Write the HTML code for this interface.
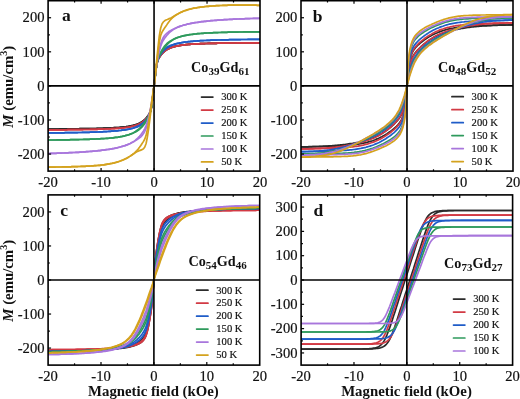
<!DOCTYPE html>
<html><head><meta charset="utf-8"><title>M-H loops</title>
<style>
html,body{margin:0;padding:0;background:#fff;width:520px;height:399px;overflow:hidden}
svg{display:block}
text{font-family:"Liberation Serif","Times New Roman",serif;fill:#111}
.tl{font-size:14.6px;stroke:#111;stroke-width:0.2px}
.pl{font-size:17.5px;font-weight:bold}
.cm{font-size:14.2px;font-weight:bold}
.sb{font-size:11px}
.lg{font-size:10.6px;stroke:#222;stroke-width:0.2px}
.at{font-size:14.8px;font-weight:bold}
.sp{font-size:10px}
</style></head><body>
<svg width="520" height="399" viewBox="0 0 520 399">

<rect width="520" height="399" fill="#fff"/>
<g><path d="M48.1,129.0 L49.4,129.0 L50.7,129.0 L52.1,129.0 L53.4,129.0 L54.7,129.0 L56.0,129.0 L57.4,129.0 L58.7,129.0 L60.0,128.9 L61.3,128.9 L62.7,128.9 L64.0,128.9 L65.3,128.9 L66.6,128.9 L68.0,128.9 L69.3,128.9 L70.6,128.9 L71.9,128.8 L73.3,128.8 L74.6,128.8 L75.9,128.8 L77.2,128.8 L78.6,128.8 L79.9,128.7 L81.2,128.7 L82.5,128.7 L83.9,128.7 L85.2,128.7 L86.5,128.6 L87.8,128.6 L89.2,128.6 L90.5,128.6 L91.8,128.5 L93.1,128.5 L94.5,128.5 L95.8,128.5 L97.1,128.4 L98.4,128.4 L99.8,128.4 L101.1,128.3 L102.4,128.3 L103.7,128.2 L105.0,128.2 L106.4,128.1 L107.7,128.1 L109.0,128.0 L110.3,128.0 L111.7,127.9 L113.0,127.8 L114.3,127.7 L115.6,127.7 L117.0,127.6 L118.3,127.5 L119.6,127.4 L120.9,127.3 L122.3,127.1 L123.6,127.0 L124.9,126.8 L126.2,126.7 L127.6,126.5 L128.9,126.3 L130.2,126.0 L131.5,125.8 L132.9,125.5 L134.2,125.2 L135.5,124.9 L136.8,124.5 L138.2,124.0 L139.5,123.5 L140.8,122.8 L142.1,122.0 L143.5,121.1 L144.8,119.9 L146.1,118.5 L147.4,116.8 L148.8,114.7 L150.1,112.2 L151.4,107.5 L152.7,97.4 L154.1,85.9 L155.4,74.5 L156.7,64.4 L158.0,59.8 L159.3,57.4 L160.7,55.4 L162.0,53.8 L163.3,52.5 L164.6,51.4 L166.0,50.4 L167.3,49.6 L168.6,48.9 L169.9,48.3 L171.3,47.7 L172.6,47.2 L173.9,46.8 L175.2,46.4 L176.6,46.1 L177.9,45.8 L179.2,45.6 L180.5,45.3 L181.9,45.1 L183.2,45.0 L184.5,44.8 L185.8,44.7 L187.2,44.6 L188.5,44.4 L189.8,44.3 L191.1,44.2 L192.5,44.1 L193.8,44.1 L195.1,44.0 L196.4,43.9 L197.8,43.8 L199.1,43.8 L200.4,43.7 L201.7,43.7 L203.1,43.6 L204.4,43.6 L205.7,43.5 L207.0,43.5 L208.3,43.4 L209.7,43.4 L211.0,43.4 L212.3,43.3 L213.6,43.3 L215.0,43.3 L216.3,43.3 L217.6,43.2 L218.9,43.2 L220.3,43.2 L221.6,43.2 L222.9,43.1 L224.2,43.1 L225.6,43.1 L226.9,43.1 L228.2,43.1 L229.5,43.0 L230.9,43.0 L232.2,43.0 L233.5,43.0 L234.8,43.0 L236.2,43.0 L237.5,42.9 L238.8,42.9 L240.1,42.9 L241.5,42.9 L242.8,42.9 L244.1,42.9 L245.4,42.9 L246.8,42.9 L248.1,42.9 L249.4,42.8 L250.7,42.8 L252.1,42.8 L253.4,42.8 L254.7,42.8 L256.0,42.8 L257.4,42.8 L258.7,42.8 L260.0,42.8" fill="none" stroke="#2b2b2b" stroke-width="1.7" stroke-linejoin="round"/>
<path d="M48.1,129.0 L49.4,129.0 L50.7,129.0 L52.1,129.0 L53.4,129.0 L54.7,129.0 L56.0,129.0 L57.4,129.0 L58.7,129.0 L60.0,128.9 L61.3,128.9 L62.7,128.9 L64.0,128.9 L65.3,128.9 L66.6,128.9 L68.0,128.9 L69.3,128.9 L70.6,128.9 L71.9,128.8 L73.3,128.8 L74.6,128.8 L75.9,128.8 L77.2,128.8 L78.6,128.8 L79.9,128.7 L81.2,128.7 L82.5,128.7 L83.9,128.7 L85.2,128.7 L86.5,128.6 L87.8,128.6 L89.2,128.6 L90.5,128.6 L91.8,128.5 L93.1,128.5 L94.5,128.5 L95.8,128.5 L97.1,128.4 L98.4,128.4 L99.8,128.4 L101.1,128.3 L102.4,128.3 L103.7,128.2 L105.0,128.2 L106.4,128.1 L107.7,128.1 L109.0,128.0 L110.3,128.0 L111.7,127.9 L113.0,127.8 L114.3,127.7 L115.6,127.7 L117.0,127.6 L118.3,127.5 L119.6,127.4 L120.9,127.2 L122.3,127.1 L123.6,127.0 L124.9,126.8 L126.2,126.7 L127.6,126.5 L128.9,126.2 L130.2,126.0 L131.5,125.7 L132.9,125.4 L134.2,125.0 L135.5,124.6 L136.8,124.1 L138.2,123.5 L139.5,122.9 L140.8,122.2 L142.1,121.4 L143.5,120.4 L144.8,119.3 L146.1,118.0 L147.4,116.4 L148.8,114.4 L150.1,112.0 L151.4,107.4 L152.7,97.3 L154.1,85.9 L155.4,74.4 L156.7,64.3 L158.0,59.6 L159.3,57.1 L160.7,55.0 L162.0,53.3 L163.3,51.9 L164.6,50.7 L166.0,49.8 L167.3,49.0 L168.6,48.3 L169.9,47.8 L171.3,47.3 L172.6,46.9 L173.9,46.6 L175.2,46.3 L176.6,46.0 L177.9,45.8 L179.2,45.5 L180.5,45.3 L181.9,45.1 L183.2,45.0 L184.5,44.8 L185.8,44.7 L187.2,44.5 L188.5,44.4 L189.8,44.3 L191.1,44.2 L192.5,44.1 L193.8,44.1 L195.1,44.0 L196.4,43.9 L197.8,43.8 L199.1,43.8 L200.4,43.7 L201.7,43.7 L203.1,43.6 L204.4,43.6 L205.7,43.5 L207.0,43.5 L208.3,43.4 L209.7,43.4 L211.0,43.4 L212.3,43.3 L213.6,43.3 L215.0,43.3 L216.3,43.3 L217.6,43.2 L218.9,43.2 L220.3,43.2 L221.6,43.2 L222.9,43.1 L224.2,43.1 L225.6,43.1 L226.9,43.1 L228.2,43.1 L229.5,43.0 L230.9,43.0 L232.2,43.0 L233.5,43.0 L234.8,43.0 L236.2,43.0 L237.5,42.9 L238.8,42.9 L240.1,42.9 L241.5,42.9 L242.8,42.9 L244.1,42.9 L245.4,42.9 L246.8,42.9 L248.1,42.9 L249.4,42.8 L250.7,42.8 L252.1,42.8 L253.4,42.8 L254.7,42.8 L256.0,42.8 L257.4,42.8 L258.7,42.8 L260.0,42.8" fill="none" stroke="#2b2b2b" stroke-width="1.7" stroke-linejoin="round"/>
<path d="M48.1,129.9 L49.4,129.9 L50.7,129.9 L52.1,129.9 L53.4,129.9 L54.7,129.8 L56.0,129.8 L57.4,129.8 L58.7,129.8 L60.0,129.8 L61.3,129.8 L62.7,129.8 L64.0,129.8 L65.3,129.8 L66.6,129.8 L68.0,129.7 L69.3,129.7 L70.6,129.7 L71.9,129.7 L73.3,129.7 L74.6,129.7 L75.9,129.7 L77.2,129.6 L78.6,129.6 L79.9,129.6 L81.2,129.6 L82.5,129.6 L83.9,129.5 L85.2,129.5 L86.5,129.5 L87.8,129.5 L89.2,129.5 L90.5,129.4 L91.8,129.4 L93.1,129.4 L94.5,129.3 L95.8,129.3 L97.1,129.3 L98.4,129.2 L99.8,129.2 L101.1,129.2 L102.4,129.1 L103.7,129.1 L105.0,129.0 L106.4,129.0 L107.7,128.9 L109.0,128.9 L110.3,128.8 L111.7,128.7 L113.0,128.7 L114.3,128.6 L115.6,128.5 L117.0,128.4 L118.3,128.3 L119.6,128.2 L120.9,128.1 L122.3,127.9 L123.6,127.8 L124.9,127.6 L126.2,127.5 L127.6,127.3 L128.9,127.1 L130.2,126.9 L131.5,126.6 L132.9,126.3 L134.2,126.0 L135.5,125.7 L136.8,125.3 L138.2,124.8 L139.5,124.2 L140.8,123.6 L142.1,122.8 L143.5,121.8 L144.8,120.6 L146.1,119.1 L147.4,117.4 L148.8,115.3 L150.1,112.7 L151.4,108.0 L152.7,97.6 L154.1,85.9 L155.4,74.5 L156.7,64.4 L158.0,59.8 L159.3,57.4 L160.7,55.4 L162.0,53.8 L163.3,52.5 L164.6,51.4 L166.0,50.4 L167.3,49.6 L168.6,48.9 L169.9,48.3 L171.3,47.7 L172.6,47.2 L173.9,46.8 L175.2,46.4 L176.6,46.1 L177.9,45.8 L179.2,45.6 L180.5,45.3 L181.9,45.1 L183.2,45.0 L184.5,44.8 L185.8,44.7 L187.2,44.6 L188.5,44.4 L189.8,44.3 L191.1,44.2 L192.5,44.1 L193.8,44.1 L195.1,44.0 L196.4,43.9 L197.8,43.8 L199.1,43.8 L200.4,43.7 L201.7,43.7 L203.1,43.6 L204.4,43.6 L205.7,43.5 L207.0,43.5 L208.3,43.4 L209.7,43.4 L211.0,43.4 L212.3,43.3 L213.6,43.3 L215.0,43.3 L216.3,43.3 L217.6,43.2 L218.9,43.2 L220.3,43.2 L221.6,43.2 L222.9,43.1 L224.2,43.1 L225.6,43.1 L226.9,43.1 L228.2,43.1 L229.5,43.0 L230.9,43.0 L232.2,43.0 L233.5,43.0 L234.8,43.0 L236.2,43.0 L237.5,42.9 L238.8,42.9 L240.1,42.9 L241.5,42.9 L242.8,42.9 L244.1,42.9 L245.4,42.9 L246.8,42.9 L248.1,42.9 L249.4,42.8 L250.7,42.8 L252.1,42.8 L253.4,42.8 L254.7,42.8 L256.0,42.8 L257.4,42.8 L258.7,42.8 L260.0,42.8" fill="none" stroke="#d23a44" stroke-width="1.7" stroke-linejoin="round"/>
<path d="M48.1,129.9 L49.4,129.9 L50.7,129.9 L52.1,129.9 L53.4,129.9 L54.7,129.8 L56.0,129.8 L57.4,129.8 L58.7,129.8 L60.0,129.8 L61.3,129.8 L62.7,129.8 L64.0,129.8 L65.3,129.8 L66.6,129.8 L68.0,129.7 L69.3,129.7 L70.6,129.7 L71.9,129.7 L73.3,129.7 L74.6,129.7 L75.9,129.7 L77.2,129.6 L78.6,129.6 L79.9,129.6 L81.2,129.6 L82.5,129.6 L83.9,129.5 L85.2,129.5 L86.5,129.5 L87.8,129.5 L89.2,129.5 L90.5,129.4 L91.8,129.4 L93.1,129.4 L94.5,129.3 L95.8,129.3 L97.1,129.3 L98.4,129.2 L99.8,129.2 L101.1,129.2 L102.4,129.1 L103.7,129.1 L105.0,129.0 L106.4,129.0 L107.7,128.9 L109.0,128.9 L110.3,128.8 L111.7,128.7 L113.0,128.7 L114.3,128.6 L115.6,128.5 L117.0,128.4 L118.3,128.3 L119.6,128.2 L120.9,128.1 L122.3,127.9 L123.6,127.8 L124.9,127.6 L126.2,127.5 L127.6,127.3 L128.9,127.1 L130.2,126.8 L131.5,126.5 L132.9,126.2 L134.2,125.8 L135.5,125.4 L136.8,124.9 L138.2,124.3 L139.5,123.7 L140.8,122.9 L142.1,122.1 L143.5,121.1 L144.8,120.0 L146.1,118.6 L147.4,117.0 L148.8,115.0 L150.1,112.5 L151.4,107.8 L152.7,97.5 L154.1,85.9 L155.4,74.4 L156.7,64.3 L158.0,59.6 L159.3,57.1 L160.7,55.0 L162.0,53.3 L163.3,51.9 L164.6,50.7 L166.0,49.8 L167.3,49.0 L168.6,48.3 L169.9,47.8 L171.3,47.3 L172.6,46.9 L173.9,46.6 L175.2,46.3 L176.6,46.0 L177.9,45.8 L179.2,45.5 L180.5,45.3 L181.9,45.1 L183.2,45.0 L184.5,44.8 L185.8,44.7 L187.2,44.5 L188.5,44.4 L189.8,44.3 L191.1,44.2 L192.5,44.1 L193.8,44.1 L195.1,44.0 L196.4,43.9 L197.8,43.8 L199.1,43.8 L200.4,43.7 L201.7,43.7 L203.1,43.6 L204.4,43.6 L205.7,43.5 L207.0,43.5 L208.3,43.4 L209.7,43.4 L211.0,43.4 L212.3,43.3 L213.6,43.3 L215.0,43.3 L216.3,43.3 L217.6,43.2 L218.9,43.2 L220.3,43.2 L221.6,43.2 L222.9,43.1 L224.2,43.1 L225.6,43.1 L226.9,43.1 L228.2,43.1 L229.5,43.0 L230.9,43.0 L232.2,43.0 L233.5,43.0 L234.8,43.0 L236.2,43.0 L237.5,42.9 L238.8,42.9 L240.1,42.9 L241.5,42.9 L242.8,42.9 L244.1,42.9 L245.4,42.9 L246.8,42.9 L248.1,42.9 L249.4,42.8 L250.7,42.8 L252.1,42.8 L253.4,42.8 L254.7,42.8 L256.0,42.8 L257.4,42.8 L258.7,42.8 L260.0,42.8" fill="none" stroke="#d23a44" stroke-width="1.7" stroke-linejoin="round"/>
<path d="M48.1,132.9 L49.4,132.9 L50.7,132.9 L52.1,132.9 L53.4,132.9 L54.7,132.9 L56.0,132.9 L57.4,132.9 L58.7,132.8 L60.0,132.8 L61.3,132.8 L62.7,132.8 L64.0,132.8 L65.3,132.7 L66.6,132.7 L68.0,132.7 L69.3,132.7 L70.6,132.7 L71.9,132.6 L73.3,132.6 L74.6,132.6 L75.9,132.6 L77.2,132.6 L78.6,132.5 L79.9,132.5 L81.2,132.5 L82.5,132.4 L83.9,132.4 L85.2,132.4 L86.5,132.3 L87.8,132.3 L89.2,132.3 L90.5,132.2 L91.8,132.2 L93.1,132.1 L94.5,132.1 L95.8,132.1 L97.1,132.0 L98.4,132.0 L99.8,131.9 L101.1,131.8 L102.4,131.8 L103.7,131.7 L105.0,131.7 L106.4,131.6 L107.7,131.5 L109.0,131.4 L110.3,131.3 L111.7,131.2 L113.0,131.1 L114.3,131.0 L115.6,130.9 L117.0,130.8 L118.3,130.7 L119.6,130.5 L120.9,130.4 L122.3,130.2 L123.6,130.0 L124.9,129.9 L126.2,129.6 L127.6,129.4 L128.9,129.2 L130.2,128.9 L131.5,128.6 L132.9,128.3 L134.2,127.9 L135.5,127.5 L136.8,127.1 L138.2,126.6 L139.5,126.0 L140.8,125.3 L142.1,124.4 L143.5,123.3 L144.8,122.0 L146.1,120.4 L147.4,118.4 L148.8,116.0 L150.1,112.9 L151.4,107.6 L152.7,97.5 L154.1,85.9 L155.4,74.5 L156.7,64.6 L158.0,59.5 L159.3,56.6 L160.7,54.4 L162.0,52.6 L163.3,51.1 L164.6,49.9 L166.0,48.8 L167.3,47.9 L168.6,47.1 L169.9,46.3 L171.3,45.7 L172.6,45.1 L173.9,44.6 L175.2,44.1 L176.6,43.7 L177.9,43.4 L179.2,43.1 L180.5,42.8 L181.9,42.6 L183.2,42.4 L184.5,42.2 L185.8,42.0 L187.2,41.9 L188.5,41.7 L189.8,41.6 L191.1,41.4 L192.5,41.3 L193.8,41.2 L195.1,41.1 L196.4,41.0 L197.8,40.9 L199.1,40.8 L200.4,40.7 L201.7,40.7 L203.1,40.6 L204.4,40.5 L205.7,40.5 L207.0,40.4 L208.3,40.4 L209.7,40.3 L211.0,40.2 L212.3,40.2 L213.6,40.2 L215.0,40.1 L216.3,40.1 L217.6,40.0 L218.9,40.0 L220.3,40.0 L221.6,39.9 L222.9,39.9 L224.2,39.9 L225.6,39.8 L226.9,39.8 L228.2,39.8 L229.5,39.7 L230.9,39.7 L232.2,39.7 L233.5,39.7 L234.8,39.6 L236.2,39.6 L237.5,39.6 L238.8,39.6 L240.1,39.6 L241.5,39.5 L242.8,39.5 L244.1,39.5 L245.4,39.5 L246.8,39.5 L248.1,39.4 L249.4,39.4 L250.7,39.4 L252.1,39.4 L253.4,39.4 L254.7,39.4 L256.0,39.4 L257.4,39.3 L258.7,39.3 L260.0,39.3" fill="none" stroke="#1f5cc8" stroke-width="1.7" stroke-linejoin="round"/>
<path d="M48.1,132.9 L49.4,132.9 L50.7,132.9 L52.1,132.9 L53.4,132.9 L54.7,132.9 L56.0,132.9 L57.4,132.9 L58.7,132.8 L60.0,132.8 L61.3,132.8 L62.7,132.8 L64.0,132.8 L65.3,132.7 L66.6,132.7 L68.0,132.7 L69.3,132.7 L70.6,132.7 L71.9,132.6 L73.3,132.6 L74.6,132.6 L75.9,132.6 L77.2,132.6 L78.6,132.5 L79.9,132.5 L81.2,132.5 L82.5,132.4 L83.9,132.4 L85.2,132.4 L86.5,132.3 L87.8,132.3 L89.2,132.3 L90.5,132.2 L91.8,132.2 L93.1,132.1 L94.5,132.1 L95.8,132.1 L97.1,132.0 L98.4,132.0 L99.8,131.9 L101.1,131.8 L102.4,131.8 L103.7,131.7 L105.0,131.7 L106.4,131.6 L107.7,131.5 L109.0,131.4 L110.3,131.3 L111.7,131.2 L113.0,131.1 L114.3,131.0 L115.6,130.9 L117.0,130.8 L118.3,130.7 L119.6,130.5 L120.9,130.4 L122.3,130.2 L123.6,130.0 L124.9,129.8 L126.2,129.6 L127.6,129.4 L128.9,129.1 L130.2,128.8 L131.5,128.5 L132.9,128.1 L134.2,127.6 L135.5,127.1 L136.8,126.5 L138.2,125.9 L139.5,125.1 L140.8,124.3 L142.1,123.4 L143.5,122.3 L144.8,121.0 L146.1,119.6 L147.4,117.8 L148.8,115.5 L150.1,112.6 L151.4,107.4 L152.7,97.4 L154.1,85.9 L155.4,74.4 L156.7,64.4 L158.0,59.1 L159.3,56.1 L160.7,53.7 L162.0,51.8 L163.3,50.2 L164.6,48.9 L166.0,47.8 L167.3,46.9 L168.6,46.2 L169.9,45.6 L171.3,45.1 L172.6,44.7 L173.9,44.3 L175.2,43.9 L176.6,43.6 L177.9,43.3 L179.2,43.1 L180.5,42.8 L181.9,42.6 L183.2,42.4 L184.5,42.2 L185.8,42.0 L187.2,41.9 L188.5,41.7 L189.8,41.6 L191.1,41.4 L192.5,41.3 L193.8,41.2 L195.1,41.1 L196.4,41.0 L197.8,40.9 L199.1,40.8 L200.4,40.7 L201.7,40.7 L203.1,40.6 L204.4,40.5 L205.7,40.5 L207.0,40.4 L208.3,40.4 L209.7,40.3 L211.0,40.2 L212.3,40.2 L213.6,40.2 L215.0,40.1 L216.3,40.1 L217.6,40.0 L218.9,40.0 L220.3,40.0 L221.6,39.9 L222.9,39.9 L224.2,39.9 L225.6,39.8 L226.9,39.8 L228.2,39.8 L229.5,39.7 L230.9,39.7 L232.2,39.7 L233.5,39.7 L234.8,39.6 L236.2,39.6 L237.5,39.6 L238.8,39.6 L240.1,39.6 L241.5,39.5 L242.8,39.5 L244.1,39.5 L245.4,39.5 L246.8,39.5 L248.1,39.4 L249.4,39.4 L250.7,39.4 L252.1,39.4 L253.4,39.4 L254.7,39.4 L256.0,39.4 L257.4,39.3 L258.7,39.3 L260.0,39.3" fill="none" stroke="#1f5cc8" stroke-width="1.7" stroke-linejoin="round"/>
<path d="M48.1,140.0 L49.4,140.0 L50.7,140.0 L52.1,140.0 L53.4,140.0 L54.7,140.0 L56.0,140.0 L57.4,139.9 L58.7,139.9 L60.0,139.9 L61.3,139.9 L62.7,139.9 L64.0,139.8 L65.3,139.8 L66.6,139.8 L68.0,139.8 L69.3,139.8 L70.6,139.7 L71.9,139.7 L73.3,139.7 L74.6,139.7 L75.9,139.6 L77.2,139.6 L78.6,139.6 L79.9,139.5 L81.2,139.5 L82.5,139.5 L83.9,139.4 L85.2,139.4 L86.5,139.4 L87.8,139.3 L89.2,139.3 L90.5,139.2 L91.8,139.2 L93.1,139.1 L94.5,139.1 L95.8,139.0 L97.1,138.9 L98.4,138.9 L99.8,138.8 L101.1,138.7 L102.4,138.6 L103.7,138.6 L105.0,138.5 L106.4,138.4 L107.7,138.3 L109.0,138.2 L110.3,138.0 L111.7,137.9 L113.0,137.8 L114.3,137.6 L115.6,137.4 L117.0,137.3 L118.3,137.1 L119.6,136.8 L120.9,136.6 L122.3,136.4 L123.6,136.1 L124.9,135.8 L126.2,135.4 L127.6,135.1 L128.9,134.7 L130.2,134.2 L131.5,133.7 L132.9,133.2 L134.2,132.6 L135.5,131.9 L136.8,131.2 L138.2,130.3 L139.5,129.3 L140.8,128.2 L142.1,126.9 L143.5,125.3 L144.8,123.5 L146.1,121.4 L147.4,119.0 L148.8,116.3 L150.1,113.2 L151.4,107.5 L152.7,97.1 L154.1,86.0 L155.4,74.6 L156.7,64.2 L158.0,58.9 L159.3,56.0 L160.7,53.4 L162.0,51.2 L163.3,49.2 L164.6,47.5 L166.0,45.9 L167.3,44.4 L168.6,43.2 L169.9,42.0 L171.3,41.0 L172.6,40.1 L173.9,39.3 L175.2,38.6 L176.6,38.0 L177.9,37.5 L179.2,37.0 L180.5,36.6 L181.9,36.2 L183.2,35.9 L184.5,35.6 L185.8,35.3 L187.2,35.1 L188.5,34.9 L189.8,34.7 L191.1,34.5 L192.5,34.3 L193.8,34.1 L195.1,34.0 L196.4,33.9 L197.8,33.7 L199.1,33.6 L200.4,33.5 L201.7,33.4 L203.1,33.3 L204.4,33.2 L205.7,33.1 L207.0,33.0 L208.3,33.0 L209.7,32.9 L211.0,32.8 L212.3,32.8 L213.6,32.7 L215.0,32.7 L216.3,32.6 L217.6,32.6 L218.9,32.5 L220.3,32.5 L221.6,32.4 L222.9,32.4 L224.2,32.4 L225.6,32.3 L226.9,32.3 L228.2,32.2 L229.5,32.2 L230.9,32.2 L232.2,32.2 L233.5,32.1 L234.8,32.1 L236.2,32.1 L237.5,32.1 L238.8,32.0 L240.1,32.0 L241.5,32.0 L242.8,32.0 L244.1,31.9 L245.4,31.9 L246.8,31.9 L248.1,31.9 L249.4,31.9 L250.7,31.9 L252.1,31.8 L253.4,31.8 L254.7,31.8 L256.0,31.8 L257.4,31.8 L258.7,31.8 L260.0,31.8" fill="none" stroke="#2e9a5c" stroke-width="1.7" stroke-linejoin="round"/>
<path d="M48.1,140.0 L49.4,140.0 L50.7,140.0 L52.1,140.0 L53.4,140.0 L54.7,140.0 L56.0,140.0 L57.4,139.9 L58.7,139.9 L60.0,139.9 L61.3,139.9 L62.7,139.9 L64.0,139.8 L65.3,139.8 L66.6,139.8 L68.0,139.8 L69.3,139.8 L70.6,139.7 L71.9,139.7 L73.3,139.7 L74.6,139.7 L75.9,139.6 L77.2,139.6 L78.6,139.6 L79.9,139.5 L81.2,139.5 L82.5,139.5 L83.9,139.4 L85.2,139.4 L86.5,139.4 L87.8,139.3 L89.2,139.3 L90.5,139.2 L91.8,139.2 L93.1,139.1 L94.5,139.1 L95.8,139.0 L97.1,138.9 L98.4,138.9 L99.8,138.8 L101.1,138.7 L102.4,138.6 L103.7,138.6 L105.0,138.5 L106.4,138.4 L107.7,138.3 L109.0,138.2 L110.3,138.0 L111.7,137.9 L113.0,137.8 L114.3,137.6 L115.6,137.4 L117.0,137.3 L118.3,137.1 L119.6,136.8 L120.9,136.6 L122.3,136.4 L123.6,136.1 L124.9,135.8 L126.2,135.4 L127.6,135.0 L128.9,134.6 L130.2,134.1 L131.5,133.6 L132.9,133.0 L134.2,132.3 L135.5,131.5 L136.8,130.5 L138.2,129.5 L139.5,128.3 L140.8,127.0 L142.1,125.6 L143.5,124.0 L144.8,122.2 L146.1,120.2 L147.4,118.0 L148.8,115.5 L150.1,112.6 L151.4,107.1 L152.7,96.8 L154.1,85.8 L155.4,74.4 L156.7,63.8 L158.0,58.3 L159.3,55.1 L160.7,52.4 L162.0,50.0 L163.3,47.9 L164.6,46.1 L166.0,44.5 L167.3,43.2 L168.6,42.1 L169.9,41.2 L171.3,40.4 L172.6,39.7 L173.9,39.0 L175.2,38.4 L176.6,37.9 L177.9,37.4 L179.2,37.0 L180.5,36.6 L181.9,36.2 L183.2,35.9 L184.5,35.6 L185.8,35.3 L187.2,35.1 L188.5,34.9 L189.8,34.7 L191.1,34.5 L192.5,34.3 L193.8,34.1 L195.1,34.0 L196.4,33.9 L197.8,33.7 L199.1,33.6 L200.4,33.5 L201.7,33.4 L203.1,33.3 L204.4,33.2 L205.7,33.1 L207.0,33.0 L208.3,33.0 L209.7,32.9 L211.0,32.8 L212.3,32.8 L213.6,32.7 L215.0,32.7 L216.3,32.6 L217.6,32.6 L218.9,32.5 L220.3,32.5 L221.6,32.4 L222.9,32.4 L224.2,32.4 L225.6,32.3 L226.9,32.3 L228.2,32.2 L229.5,32.2 L230.9,32.2 L232.2,32.2 L233.5,32.1 L234.8,32.1 L236.2,32.1 L237.5,32.1 L238.8,32.0 L240.1,32.0 L241.5,32.0 L242.8,32.0 L244.1,31.9 L245.4,31.9 L246.8,31.9 L248.1,31.9 L249.4,31.9 L250.7,31.9 L252.1,31.8 L253.4,31.8 L254.7,31.8 L256.0,31.8 L257.4,31.8 L258.7,31.8 L260.0,31.8" fill="none" stroke="#2e9a5c" stroke-width="1.7" stroke-linejoin="round"/>
<path d="M48.1,153.5 L49.4,153.5 L50.7,153.4 L52.1,153.4 L53.4,153.3 L54.7,153.3 L56.0,153.3 L57.4,153.2 L58.7,153.2 L60.0,153.1 L61.3,153.1 L62.7,153.0 L64.0,153.0 L65.3,152.9 L66.6,152.8 L68.0,152.8 L69.3,152.7 L70.6,152.7 L71.9,152.6 L73.3,152.5 L74.6,152.5 L75.9,152.4 L77.2,152.3 L78.6,152.3 L79.9,152.2 L81.2,152.1 L82.5,152.0 L83.9,151.9 L85.2,151.8 L86.5,151.7 L87.8,151.6 L89.2,151.5 L90.5,151.4 L91.8,151.3 L93.1,151.2 L94.5,151.1 L95.8,151.0 L97.1,150.8 L98.4,150.7 L99.8,150.6 L101.1,150.4 L102.4,150.2 L103.7,150.1 L105.0,149.9 L106.4,149.7 L107.7,149.5 L109.0,149.3 L110.3,149.1 L111.7,148.9 L113.0,148.6 L114.3,148.4 L115.6,148.1 L117.0,147.8 L118.3,147.5 L119.6,147.2 L120.9,146.8 L122.3,146.4 L123.6,146.0 L124.9,145.6 L126.2,145.1 L127.6,144.6 L128.9,144.1 L130.2,143.5 L131.5,142.8 L132.9,142.1 L134.2,141.4 L135.5,140.6 L136.8,139.8 L138.2,138.9 L139.5,137.9 L140.8,136.8 L142.1,135.4 L143.5,133.6 L144.8,131.3 L146.1,128.1 L147.4,123.7 L148.8,118.3 L150.1,112.1 L151.4,104.9 L152.7,96.5 L154.1,86.1 L155.4,74.0 L156.7,64.7 L158.0,57.2 L159.3,51.0 L160.7,46.1 L162.0,42.7 L163.3,40.2 L164.6,38.2 L166.0,36.4 L167.3,34.8 L168.6,33.4 L169.9,32.1 L171.3,31.0 L172.6,30.0 L173.9,29.1 L175.2,28.4 L176.6,27.7 L177.9,27.1 L179.2,26.6 L180.5,26.1 L181.9,25.7 L183.2,25.3 L184.5,24.9 L185.8,24.6 L187.2,24.2 L188.5,23.9 L189.8,23.7 L191.1,23.4 L192.5,23.1 L193.8,22.9 L195.1,22.7 L196.4,22.5 L197.8,22.3 L199.1,22.1 L200.4,21.9 L201.7,21.7 L203.1,21.6 L204.4,21.4 L205.7,21.3 L207.0,21.1 L208.3,21.0 L209.7,20.9 L211.0,20.7 L212.3,20.6 L213.6,20.5 L215.0,20.4 L216.3,20.3 L217.6,20.2 L218.9,20.1 L220.3,20.0 L221.6,19.9 L222.9,19.8 L224.2,19.7 L225.6,19.7 L226.9,19.6 L228.2,19.5 L229.5,19.4 L230.9,19.4 L232.2,19.3 L233.5,19.2 L234.8,19.2 L236.2,19.1 L237.5,19.0 L238.8,19.0 L240.1,18.9 L241.5,18.9 L242.8,18.8 L244.1,18.8 L245.4,18.7 L246.8,18.7 L248.1,18.6 L249.4,18.6 L250.7,18.5 L252.1,18.5 L253.4,18.4 L254.7,18.4 L256.0,18.4 L257.4,18.3 L258.7,18.3 L260.0,18.2" fill="none" stroke="#a876dc" stroke-width="1.7" stroke-linejoin="round"/>
<path d="M48.1,153.5 L49.4,153.5 L50.7,153.4 L52.1,153.4 L53.4,153.3 L54.7,153.3 L56.0,153.3 L57.4,153.2 L58.7,153.2 L60.0,153.1 L61.3,153.1 L62.7,153.0 L64.0,153.0 L65.3,152.9 L66.6,152.8 L68.0,152.8 L69.3,152.7 L70.6,152.7 L71.9,152.6 L73.3,152.5 L74.6,152.5 L75.9,152.4 L77.2,152.3 L78.6,152.3 L79.9,152.2 L81.2,152.1 L82.5,152.0 L83.9,151.9 L85.2,151.8 L86.5,151.7 L87.8,151.6 L89.2,151.5 L90.5,151.4 L91.8,151.3 L93.1,151.2 L94.5,151.1 L95.8,151.0 L97.1,150.8 L98.4,150.7 L99.8,150.6 L101.1,150.4 L102.4,150.2 L103.7,150.1 L105.0,149.9 L106.4,149.7 L107.7,149.5 L109.0,149.3 L110.3,149.1 L111.7,148.9 L113.0,148.6 L114.3,148.4 L115.6,148.1 L117.0,147.8 L118.3,147.5 L119.6,147.2 L120.9,146.8 L122.3,146.4 L123.6,146.0 L124.9,145.6 L126.2,145.1 L127.6,144.6 L128.9,144.0 L130.2,143.4 L131.5,142.7 L132.9,142.0 L134.2,141.1 L135.5,140.1 L136.8,139.0 L138.2,137.7 L139.5,136.3 L140.8,134.7 L142.1,132.9 L143.5,131.0 L144.8,128.6 L146.1,125.5 L147.4,121.4 L148.8,116.4 L150.1,110.7 L151.4,103.9 L152.7,95.8 L154.1,85.7 L155.4,73.4 L156.7,63.7 L158.0,55.8 L159.3,49.1 L160.7,43.8 L162.0,40.1 L163.3,37.5 L164.6,35.5 L166.0,34.0 L167.3,32.8 L168.6,31.8 L169.9,31.0 L171.3,30.2 L172.6,29.5 L173.9,28.9 L175.2,28.2 L176.6,27.7 L177.9,27.1 L179.2,26.6 L180.5,26.1 L181.9,25.7 L183.2,25.3 L184.5,24.9 L185.8,24.6 L187.2,24.2 L188.5,23.9 L189.8,23.7 L191.1,23.4 L192.5,23.1 L193.8,22.9 L195.1,22.7 L196.4,22.5 L197.8,22.3 L199.1,22.1 L200.4,21.9 L201.7,21.7 L203.1,21.6 L204.4,21.4 L205.7,21.3 L207.0,21.1 L208.3,21.0 L209.7,20.9 L211.0,20.7 L212.3,20.6 L213.6,20.5 L215.0,20.4 L216.3,20.3 L217.6,20.2 L218.9,20.1 L220.3,20.0 L221.6,19.9 L222.9,19.8 L224.2,19.7 L225.6,19.7 L226.9,19.6 L228.2,19.5 L229.5,19.4 L230.9,19.4 L232.2,19.3 L233.5,19.2 L234.8,19.2 L236.2,19.1 L237.5,19.0 L238.8,19.0 L240.1,18.9 L241.5,18.9 L242.8,18.8 L244.1,18.8 L245.4,18.7 L246.8,18.7 L248.1,18.6 L249.4,18.6 L250.7,18.5 L252.1,18.5 L253.4,18.4 L254.7,18.4 L256.0,18.4 L257.4,18.3 L258.7,18.3 L260.0,18.2" fill="none" stroke="#a876dc" stroke-width="1.7" stroke-linejoin="round"/>
<path d="M48.1,167.1 L49.4,167.1 L50.7,167.1 L52.1,167.1 L53.4,167.1 L54.7,167.1 L56.0,167.0 L57.4,167.0 L58.7,167.0 L60.0,167.0 L61.3,167.0 L62.7,166.9 L64.0,166.9 L65.3,166.9 L66.6,166.9 L68.0,166.8 L69.3,166.8 L70.6,166.8 L71.9,166.7 L73.3,166.7 L74.6,166.7 L75.9,166.6 L77.2,166.6 L78.6,166.5 L79.9,166.5 L81.2,166.4 L82.5,166.4 L83.9,166.3 L85.2,166.3 L86.5,166.2 L87.8,166.1 L89.2,166.1 L90.5,166.0 L91.8,165.9 L93.1,165.8 L94.5,165.7 L95.8,165.6 L97.1,165.5 L98.4,165.4 L99.8,165.3 L101.1,165.1 L102.4,165.0 L103.7,164.8 L105.0,164.6 L106.4,164.4 L107.7,164.2 L109.0,164.0 L110.3,163.7 L111.7,163.5 L113.0,163.2 L114.3,162.9 L115.6,162.5 L117.0,162.1 L118.3,161.7 L119.6,161.3 L120.9,160.8 L122.3,160.2 L123.6,159.7 L124.9,159.1 L126.2,158.4 L127.6,157.7 L128.9,156.9 L130.2,156.1 L131.5,155.2 L132.9,154.3 L134.2,153.5 L135.5,152.6 L136.8,151.8 L138.2,151.2 L139.5,150.6 L140.8,150.1 L142.1,149.6 L143.5,148.7 L144.8,147.0 L146.1,143.5 L147.4,136.9 L148.8,127.6 L150.1,117.3 L151.4,106.9 L152.7,96.7 L154.1,86.6 L155.4,75.1 L156.7,63.7 L158.0,52.5 L159.3,42.3 L160.7,35.4 L162.0,32.1 L163.3,30.0 L164.6,28.1 L166.0,26.1 L167.3,24.1 L168.6,22.2 L169.9,20.5 L171.3,19.0 L172.6,17.6 L173.9,16.5 L175.2,15.5 L176.6,14.7 L177.9,13.9 L179.2,13.2 L180.5,12.5 L181.9,11.9 L183.2,11.3 L184.5,10.8 L185.8,10.4 L187.2,9.9 L188.5,9.5 L189.8,9.2 L191.1,8.8 L192.5,8.5 L193.8,8.2 L195.1,8.0 L196.4,7.8 L197.8,7.5 L199.1,7.3 L200.4,7.1 L201.7,7.0 L203.1,6.8 L204.4,6.7 L205.7,6.5 L207.0,6.4 L208.3,6.3 L209.7,6.2 L211.0,6.1 L212.3,6.0 L213.6,5.9 L215.0,5.8 L216.3,5.7 L217.6,5.7 L218.9,5.6 L220.3,5.5 L221.6,5.5 L222.9,5.4 L224.2,5.4 L225.6,5.3 L226.9,5.3 L228.2,5.2 L229.5,5.2 L230.9,5.2 L232.2,5.1 L233.5,5.1 L234.8,5.1 L236.2,5.1 L237.5,5.1 L238.8,5.1 L240.1,5.1 L241.5,5.1 L242.8,5.1 L244.1,5.1 L245.4,5.1 L246.8,5.1 L248.1,5.1 L249.4,5.1 L250.7,5.1 L252.1,5.1 L253.4,5.2 L254.7,5.2 L256.0,5.2 L257.4,5.3 L258.7,5.3 L260.0,5.3" fill="none" stroke="#d4a21e" stroke-width="1.7" stroke-linejoin="round"/>
<path d="M48.1,167.1 L49.4,167.1 L50.7,167.1 L52.1,167.1 L53.4,167.1 L54.7,167.1 L56.0,167.0 L57.4,167.0 L58.7,167.0 L60.0,167.0 L61.3,167.0 L62.7,166.9 L64.0,166.9 L65.3,166.9 L66.6,166.9 L68.0,166.8 L69.3,166.8 L70.6,166.8 L71.9,166.7 L73.3,166.7 L74.6,166.7 L75.9,166.6 L77.2,166.6 L78.6,166.5 L79.9,166.5 L81.2,166.4 L82.5,166.4 L83.9,166.3 L85.2,166.3 L86.5,166.2 L87.8,166.1 L89.2,166.1 L90.5,166.0 L91.8,165.9 L93.1,165.8 L94.5,165.7 L95.8,165.6 L97.1,165.5 L98.4,165.4 L99.8,165.3 L101.1,165.1 L102.4,165.0 L103.7,164.8 L105.0,164.6 L106.4,164.4 L107.7,164.2 L109.0,164.0 L110.3,163.7 L111.7,163.5 L113.0,163.2 L114.3,162.9 L115.6,162.5 L117.0,162.1 L118.3,161.7 L119.6,161.3 L120.9,160.8 L122.3,160.2 L123.6,159.7 L124.9,159.1 L126.2,158.4 L127.6,157.7 L128.9,156.9 L130.2,156.1 L131.5,155.2 L132.9,154.2 L134.2,153.1 L135.5,151.9 L136.8,150.6 L138.2,149.1 L139.5,147.3 L140.8,145.4 L142.1,143.5 L143.5,141.4 L144.8,139.0 L146.1,135.4 L147.4,129.4 L148.8,121.2 L150.1,112.3 L151.4,103.4 L152.7,94.4 L154.1,85.2 L155.4,72.7 L156.7,60.1 L158.0,47.5 L159.3,35.9 L160.7,27.9 L162.0,23.9 L163.3,22.0 L164.6,20.8 L166.0,20.0 L167.3,19.5 L168.6,18.9 L169.9,18.4 L171.3,17.7 L172.6,17.0 L173.9,16.2 L175.2,15.4 L176.6,14.6 L177.9,13.9 L179.2,13.1 L180.5,12.5 L181.9,11.9 L183.2,11.3 L184.5,10.8 L185.8,10.4 L187.2,9.9 L188.5,9.5 L189.8,9.2 L191.1,8.8 L192.5,8.5 L193.8,8.2 L195.1,8.0 L196.4,7.8 L197.8,7.5 L199.1,7.3 L200.4,7.1 L201.7,7.0 L203.1,6.8 L204.4,6.7 L205.7,6.5 L207.0,6.4 L208.3,6.3 L209.7,6.2 L211.0,6.1 L212.3,6.0 L213.6,5.9 L215.0,5.8 L216.3,5.7 L217.6,5.7 L218.9,5.6 L220.3,5.5 L221.6,5.5 L222.9,5.4 L224.2,5.4 L225.6,5.3 L226.9,5.3 L228.2,5.2 L229.5,5.2 L230.9,5.2 L232.2,5.1 L233.5,5.1 L234.8,5.1 L236.2,5.1 L237.5,5.1 L238.8,5.1 L240.1,5.1 L241.5,5.1 L242.8,5.1 L244.1,5.1 L245.4,5.1 L246.8,5.1 L248.1,5.1 L249.4,5.1 L250.7,5.1 L252.1,5.1 L253.4,5.2 L254.7,5.2 L256.0,5.2 L257.4,5.3 L258.7,5.3 L260.0,5.3" fill="none" stroke="#d4a21e" stroke-width="1.7" stroke-linejoin="round"/>
<path d="M301.0,146.9 L302.3,146.9 L303.6,146.9 L305.0,146.9 L306.3,146.8 L307.6,146.8 L308.9,146.8 L310.3,146.8 L311.6,146.8 L312.9,146.7 L314.2,146.7 L315.6,146.7 L316.9,146.7 L318.2,146.6 L319.6,146.6 L320.9,146.6 L322.2,146.5 L323.5,146.5 L324.9,146.5 L326.2,146.4 L327.5,146.4 L328.8,146.3 L330.1,146.3 L331.5,146.3 L332.8,146.2 L334.1,146.2 L335.4,146.1 L336.8,146.0 L338.1,146.0 L339.4,145.9 L340.8,145.8 L342.1,145.8 L343.4,145.7 L344.7,145.6 L346.1,145.5 L347.4,145.4 L348.7,145.3 L350.0,145.2 L351.4,145.0 L352.7,144.9 L354.0,144.7 L355.3,144.6 L356.6,144.4 L358.0,144.2 L359.3,144.0 L360.6,143.7 L361.9,143.5 L363.3,143.2 L364.6,142.9 L365.9,142.6 L367.2,142.3 L368.6,141.9 L369.9,141.5 L371.2,141.1 L372.6,140.7 L373.9,140.2 L375.2,139.7 L376.5,139.1 L377.9,138.6 L379.2,138.0 L380.5,137.3 L381.8,136.7 L383.1,135.9 L384.5,135.2 L385.8,134.4 L387.1,133.6 L388.4,132.7 L389.8,131.8 L391.1,130.8 L392.4,129.8 L393.8,128.7 L395.1,127.5 L396.4,126.3 L397.7,125.0 L399.1,123.4 L400.4,121.6 L401.7,119.3 L403.0,115.8 L404.4,109.9 L405.7,100.4 L407.0,85.9 L408.3,75.8 L409.6,67.0 L411.0,61.2 L412.3,57.6 L413.6,55.2 L414.9,53.3 L416.3,51.6 L417.6,50.2 L418.9,48.8 L420.2,47.5 L421.6,46.2 L422.9,45.0 L424.2,43.9 L425.6,42.9 L426.9,41.8 L428.2,40.9 L429.5,40.0 L430.9,39.1 L432.2,38.3 L433.5,37.5 L434.8,36.8 L436.1,36.1 L437.5,35.5 L438.8,34.9 L440.1,34.3 L441.4,33.8 L442.8,33.3 L444.1,32.8 L445.4,32.3 L446.8,31.9 L448.1,31.5 L449.4,31.1 L450.7,30.8 L452.1,30.5 L453.4,30.1 L454.7,29.8 L456.0,29.5 L457.4,29.3 L458.7,29.0 L460.0,28.8 L461.3,28.5 L462.6,28.3 L464.0,28.1 L465.3,27.9 L466.6,27.7 L467.9,27.5 L469.3,27.3 L470.6,27.2 L471.9,27.0 L473.2,26.9 L474.6,26.7 L475.9,26.6 L477.2,26.5 L478.6,26.4 L479.9,26.2 L481.2,26.1 L482.5,26.0 L483.9,25.9 L485.2,25.9 L486.5,25.8 L487.8,25.7 L489.1,25.6 L490.5,25.6 L491.8,25.5 L493.1,25.4 L494.4,25.4 L495.8,25.3 L497.1,25.3 L498.4,25.2 L499.8,25.2 L501.1,25.2 L502.4,25.1 L503.7,25.1 L505.1,25.1 L506.4,25.0 L507.7,25.0 L509.0,25.0 L510.4,24.9 L511.7,24.9 L513.0,24.9" fill="none" stroke="#2b2b2b" stroke-width="1.7" stroke-linejoin="round"/>
<path d="M301.0,146.9 L302.3,146.9 L303.6,146.9 L305.0,146.8 L306.3,146.8 L307.6,146.8 L308.9,146.7 L310.3,146.7 L311.6,146.7 L312.9,146.6 L314.2,146.6 L315.6,146.6 L316.9,146.5 L318.2,146.5 L319.6,146.4 L320.9,146.4 L322.2,146.3 L323.5,146.2 L324.9,146.2 L326.2,146.1 L327.5,146.0 L328.8,145.9 L330.1,145.9 L331.5,145.8 L332.8,145.7 L334.1,145.6 L335.4,145.4 L336.8,145.3 L338.1,145.2 L339.4,145.1 L340.8,144.9 L342.1,144.8 L343.4,144.6 L344.7,144.5 L346.1,144.3 L347.4,144.1 L348.7,143.9 L350.0,143.7 L351.4,143.5 L352.7,143.3 L354.0,143.0 L355.3,142.8 L356.6,142.5 L358.0,142.3 L359.3,142.0 L360.6,141.7 L361.9,141.3 L363.3,141.0 L364.6,140.7 L365.9,140.3 L367.2,139.9 L368.6,139.5 L369.9,139.0 L371.2,138.5 L372.6,138.0 L373.9,137.5 L375.2,136.9 L376.5,136.3 L377.9,135.7 L379.2,135.0 L380.5,134.3 L381.8,133.5 L383.1,132.7 L384.5,131.8 L385.8,130.9 L387.1,130.0 L388.4,128.9 L389.8,127.9 L391.1,126.8 L392.4,125.6 L393.8,124.3 L395.1,123.0 L396.4,121.6 L397.7,120.2 L399.1,118.5 L400.4,116.6 L401.7,114.2 L403.0,110.6 L404.4,104.8 L405.7,96.0 L407.0,85.9 L408.3,71.4 L409.6,61.9 L411.0,56.0 L412.3,52.5 L413.6,50.2 L414.9,48.4 L416.3,46.8 L417.6,45.5 L418.9,44.3 L420.2,43.1 L421.6,42.0 L422.9,41.0 L424.2,40.0 L425.6,39.1 L426.9,38.2 L428.2,37.4 L429.5,36.6 L430.9,35.9 L432.2,35.1 L433.5,34.5 L434.8,33.8 L436.1,33.2 L437.5,32.7 L438.8,32.1 L440.1,31.6 L441.4,31.1 L442.8,30.7 L444.1,30.3 L445.4,29.9 L446.8,29.5 L448.1,29.2 L449.4,28.9 L450.7,28.6 L452.1,28.3 L453.4,28.1 L454.7,27.8 L456.0,27.6 L457.4,27.4 L458.7,27.2 L460.0,27.1 L461.3,26.9 L462.6,26.8 L464.0,26.6 L465.3,26.5 L466.6,26.4 L467.9,26.3 L469.3,26.2 L470.6,26.1 L471.9,26.0 L473.2,26.0 L474.6,25.9 L475.9,25.8 L477.2,25.8 L478.6,25.7 L479.9,25.6 L481.2,25.6 L482.5,25.5 L483.9,25.5 L485.2,25.5 L486.5,25.4 L487.8,25.4 L489.1,25.3 L490.5,25.3 L491.8,25.3 L493.1,25.2 L494.4,25.2 L495.8,25.2 L497.1,25.1 L498.4,25.1 L499.8,25.1 L501.1,25.1 L502.4,25.0 L503.7,25.0 L505.1,25.0 L506.4,25.0 L507.7,25.0 L509.0,24.9 L510.4,24.9 L511.7,24.9 L513.0,24.9" fill="none" stroke="#2b2b2b" stroke-width="1.7" stroke-linejoin="round"/>
<path d="M301.0,148.9 L302.3,148.9 L303.6,148.9 L305.0,148.9 L306.3,148.9 L307.6,148.9 L308.9,148.8 L310.3,148.8 L311.6,148.8 L312.9,148.8 L314.2,148.7 L315.6,148.7 L316.9,148.7 L318.2,148.6 L319.6,148.6 L320.9,148.6 L322.2,148.5 L323.5,148.5 L324.9,148.5 L326.2,148.4 L327.5,148.4 L328.8,148.3 L330.1,148.3 L331.5,148.2 L332.8,148.2 L334.1,148.1 L335.4,148.1 L336.8,148.0 L338.1,147.9 L339.4,147.9 L340.8,147.8 L342.1,147.7 L343.4,147.6 L344.7,147.5 L346.1,147.4 L347.4,147.3 L348.7,147.2 L350.0,147.1 L351.4,146.9 L352.7,146.8 L354.0,146.6 L355.3,146.5 L356.6,146.3 L358.0,146.1 L359.3,145.8 L360.6,145.6 L361.9,145.3 L363.3,145.1 L364.6,144.7 L365.9,144.4 L367.2,144.1 L368.6,143.7 L369.9,143.3 L371.2,142.8 L372.6,142.4 L373.9,141.9 L375.2,141.4 L376.5,140.8 L377.9,140.2 L379.2,139.6 L380.5,138.9 L381.8,138.2 L383.1,137.4 L384.5,136.6 L385.8,135.8 L387.1,134.9 L388.4,134.0 L389.8,133.0 L391.1,132.0 L392.4,130.9 L393.8,129.8 L395.1,128.6 L396.4,127.3 L397.7,125.9 L399.1,124.3 L400.4,122.4 L401.7,120.0 L403.0,116.4 L404.4,110.2 L405.7,100.4 L407.0,85.9 L408.3,76.2 L409.6,67.7 L411.0,61.9 L412.3,58.3 L413.6,55.7 L414.9,53.7 L416.3,51.9 L417.6,50.3 L418.9,48.9 L420.2,47.5 L421.6,46.2 L422.9,45.0 L424.2,43.8 L425.6,42.7 L426.9,41.7 L428.2,40.7 L429.5,39.8 L430.9,38.9 L432.2,38.1 L433.5,37.3 L434.8,36.5 L436.1,35.8 L437.5,35.1 L438.8,34.5 L440.1,33.9 L441.4,33.3 L442.8,32.8 L444.1,32.3 L445.4,31.8 L446.8,31.3 L448.1,30.9 L449.4,30.4 L450.7,30.0 L452.1,29.6 L453.4,29.3 L454.7,28.9 L456.0,28.6 L457.4,28.3 L458.7,28.0 L460.0,27.7 L461.3,27.4 L462.6,27.1 L464.0,26.8 L465.3,26.6 L466.6,26.4 L467.9,26.1 L469.3,25.9 L470.6,25.7 L471.9,25.5 L473.2,25.3 L474.6,25.1 L475.9,25.0 L477.2,24.8 L478.6,24.6 L479.9,24.5 L481.2,24.4 L482.5,24.2 L483.9,24.1 L485.2,24.0 L486.5,23.9 L487.8,23.8 L489.1,23.7 L490.5,23.6 L491.8,23.6 L493.1,23.5 L494.4,23.4 L495.8,23.4 L497.1,23.3 L498.4,23.3 L499.8,23.2 L501.1,23.2 L502.4,23.1 L503.7,23.1 L505.1,23.0 L506.4,23.0 L507.7,23.0 L509.0,22.9 L510.4,22.9 L511.7,22.9 L513.0,22.9" fill="none" stroke="#d23a44" stroke-width="1.7" stroke-linejoin="round"/>
<path d="M301.0,148.9 L302.3,148.9 L303.6,148.9 L305.0,148.9 L306.3,148.8 L307.6,148.8 L308.9,148.8 L310.3,148.7 L311.6,148.7 L312.9,148.6 L314.2,148.6 L315.6,148.5 L316.9,148.5 L318.2,148.4 L319.6,148.4 L320.9,148.3 L322.2,148.2 L323.5,148.2 L324.9,148.1 L326.2,148.0 L327.5,147.9 L328.8,147.8 L330.1,147.7 L331.5,147.6 L332.8,147.4 L334.1,147.3 L335.4,147.2 L336.8,147.0 L338.1,146.8 L339.4,146.7 L340.8,146.5 L342.1,146.3 L343.4,146.1 L344.7,145.9 L346.1,145.7 L347.4,145.4 L348.7,145.2 L350.0,145.0 L351.4,144.7 L352.7,144.4 L354.0,144.1 L355.3,143.8 L356.6,143.5 L358.0,143.2 L359.3,142.9 L360.6,142.5 L361.9,142.2 L363.3,141.8 L364.6,141.4 L365.9,140.9 L367.2,140.5 L368.6,140.0 L369.9,139.5 L371.2,139.0 L372.6,138.5 L373.9,137.9 L375.2,137.3 L376.5,136.7 L377.9,136.0 L379.2,135.3 L380.5,134.5 L381.8,133.7 L383.1,132.9 L384.5,132.0 L385.8,131.1 L387.1,130.1 L388.4,129.1 L389.8,128.0 L391.1,126.8 L392.4,125.6 L393.8,124.3 L395.1,122.9 L396.4,121.5 L397.7,119.9 L399.1,118.1 L400.4,116.1 L401.7,113.5 L403.0,109.9 L404.4,104.1 L405.7,95.6 L407.0,85.9 L408.3,71.4 L409.6,61.6 L411.0,55.4 L412.3,51.8 L413.6,49.4 L414.9,47.5 L416.3,45.9 L417.6,44.5 L418.9,43.2 L420.2,42.0 L421.6,40.9 L422.9,39.8 L424.2,38.8 L425.6,37.8 L426.9,36.9 L428.2,36.0 L429.5,35.2 L430.9,34.4 L432.2,33.6 L433.5,32.9 L434.8,32.2 L436.1,31.6 L437.5,31.0 L438.8,30.4 L440.1,29.9 L441.4,29.4 L442.8,29.0 L444.1,28.5 L445.4,28.1 L446.8,27.7 L448.1,27.4 L449.4,27.1 L450.7,26.7 L452.1,26.5 L453.4,26.2 L454.7,26.0 L456.0,25.7 L457.4,25.5 L458.7,25.3 L460.0,25.2 L461.3,25.0 L462.6,24.9 L464.0,24.7 L465.3,24.6 L466.6,24.5 L467.9,24.4 L469.3,24.3 L470.6,24.2 L471.9,24.1 L473.2,24.0 L474.6,23.9 L475.9,23.9 L477.2,23.8 L478.6,23.7 L479.9,23.7 L481.2,23.6 L482.5,23.6 L483.9,23.5 L485.2,23.5 L486.5,23.4 L487.8,23.4 L489.1,23.3 L490.5,23.3 L491.8,23.3 L493.1,23.2 L494.4,23.2 L495.8,23.2 L497.1,23.1 L498.4,23.1 L499.8,23.1 L501.1,23.0 L502.4,23.0 L503.7,23.0 L505.1,23.0 L506.4,22.9 L507.7,22.9 L509.0,22.9 L510.4,22.9 L511.7,22.9 L513.0,22.9" fill="none" stroke="#d23a44" stroke-width="1.7" stroke-linejoin="round"/>
<path d="M301.0,151.7 L302.3,151.7 L303.6,151.6 L305.0,151.6 L306.3,151.6 L307.6,151.6 L308.9,151.6 L310.3,151.5 L311.6,151.5 L312.9,151.5 L314.2,151.5 L315.6,151.5 L316.9,151.4 L318.2,151.4 L319.6,151.4 L320.9,151.3 L322.2,151.3 L323.5,151.3 L324.9,151.2 L326.2,151.2 L327.5,151.2 L328.8,151.1 L330.1,151.1 L331.5,151.0 L332.8,151.0 L334.1,150.9 L335.4,150.9 L336.8,150.8 L338.1,150.8 L339.4,150.7 L340.8,150.6 L342.1,150.5 L343.4,150.5 L344.7,150.4 L346.1,150.3 L347.4,150.2 L348.7,150.1 L350.0,149.9 L351.4,149.8 L352.7,149.7 L354.0,149.5 L355.3,149.3 L356.6,149.1 L358.0,148.9 L359.3,148.7 L360.6,148.5 L361.9,148.2 L363.3,147.9 L364.6,147.6 L365.9,147.3 L367.2,146.9 L368.6,146.5 L369.9,146.1 L371.2,145.6 L372.6,145.2 L373.9,144.7 L375.2,144.1 L376.5,143.6 L377.9,143.0 L379.2,142.4 L380.5,141.7 L381.8,141.0 L383.1,140.3 L384.5,139.5 L385.8,138.7 L387.1,137.8 L388.4,136.9 L389.8,136.0 L391.1,135.0 L392.4,133.9 L393.8,132.8 L395.1,131.6 L396.4,130.3 L397.7,128.9 L399.1,127.2 L400.4,125.3 L401.7,122.8 L403.0,119.0 L404.4,112.8 L405.7,102.6 L407.0,85.9 L408.3,78.0 L409.6,71.0 L411.0,65.8 L412.3,62.1 L413.6,59.2 L414.9,56.9 L416.3,54.9 L417.6,53.1 L418.9,51.5 L420.2,50.0 L421.6,48.6 L422.9,47.3 L424.2,46.2 L425.6,45.0 L426.9,44.0 L428.2,43.0 L429.5,42.0 L430.9,41.1 L432.2,40.2 L433.5,39.4 L434.8,38.6 L436.1,37.8 L437.5,37.1 L438.8,36.4 L440.1,35.7 L441.4,35.1 L442.8,34.4 L444.1,33.8 L445.4,33.2 L446.8,32.6 L448.1,32.1 L449.4,31.5 L450.7,31.0 L452.1,30.5 L453.4,30.0 L454.7,29.5 L456.0,29.0 L457.4,28.6 L458.7,28.1 L460.0,27.7 L461.3,27.2 L462.6,26.8 L464.0,26.4 L465.3,26.0 L466.6,25.7 L467.9,25.3 L469.3,24.9 L470.6,24.6 L471.9,24.3 L473.2,24.0 L474.6,23.7 L475.9,23.4 L477.2,23.1 L478.6,22.9 L479.9,22.6 L481.2,22.4 L482.5,22.2 L483.9,22.0 L485.2,21.8 L486.5,21.7 L487.8,21.5 L489.1,21.4 L490.5,21.3 L491.8,21.1 L493.1,21.0 L494.4,20.9 L495.8,20.8 L497.1,20.7 L498.4,20.7 L499.8,20.6 L501.1,20.5 L502.4,20.5 L503.7,20.4 L505.1,20.4 L506.4,20.3 L507.7,20.3 L509.0,20.2 L510.4,20.2 L511.7,20.2 L513.0,20.1" fill="none" stroke="#1f5cc8" stroke-width="1.7" stroke-linejoin="round"/>
<path d="M301.0,151.7 L302.3,151.6 L303.6,151.6 L305.0,151.6 L306.3,151.5 L307.6,151.5 L308.9,151.4 L310.3,151.4 L311.6,151.3 L312.9,151.3 L314.2,151.2 L315.6,151.1 L316.9,151.1 L318.2,151.0 L319.6,150.9 L320.9,150.8 L322.2,150.7 L323.5,150.5 L324.9,150.4 L326.2,150.3 L327.5,150.1 L328.8,150.0 L330.1,149.8 L331.5,149.6 L332.8,149.4 L334.1,149.2 L335.4,148.9 L336.8,148.7 L338.1,148.4 L339.4,148.1 L340.8,147.8 L342.1,147.5 L343.4,147.2 L344.7,146.9 L346.1,146.5 L347.4,146.1 L348.7,145.8 L350.0,145.4 L351.4,145.0 L352.7,144.6 L354.0,144.1 L355.3,143.7 L356.6,143.2 L358.0,142.8 L359.3,142.3 L360.6,141.8 L361.9,141.3 L363.3,140.8 L364.6,140.3 L365.9,139.7 L367.2,139.2 L368.6,138.6 L369.9,138.0 L371.2,137.4 L372.6,136.7 L373.9,136.1 L375.2,135.4 L376.5,134.7 L377.9,134.0 L379.2,133.2 L380.5,132.4 L381.8,131.6 L383.1,130.7 L384.5,129.8 L385.8,128.8 L387.1,127.8 L388.4,126.8 L389.8,125.6 L391.1,124.5 L392.4,123.2 L393.8,121.8 L395.1,120.3 L396.4,118.7 L397.7,116.9 L399.1,114.9 L400.4,112.6 L401.7,109.7 L403.0,106.0 L404.4,100.8 L405.7,93.8 L407.0,85.9 L408.3,69.2 L409.6,59.0 L411.0,52.8 L412.3,49.0 L413.6,46.5 L414.9,44.6 L416.3,42.9 L417.6,41.5 L418.9,40.2 L420.2,39.0 L421.6,37.9 L422.9,36.8 L424.2,35.8 L425.6,34.9 L426.9,34.0 L428.2,33.1 L429.5,32.3 L430.9,31.5 L432.2,30.8 L433.5,30.1 L434.8,29.4 L436.1,28.8 L437.5,28.2 L438.8,27.7 L440.1,27.1 L441.4,26.6 L442.8,26.2 L444.1,25.7 L445.4,25.3 L446.8,24.9 L448.1,24.5 L449.4,24.2 L450.7,23.9 L452.1,23.6 L453.4,23.3 L454.7,23.1 L456.0,22.9 L457.4,22.7 L458.7,22.5 L460.0,22.3 L461.3,22.1 L462.6,22.0 L464.0,21.9 L465.3,21.7 L466.6,21.6 L467.9,21.5 L469.3,21.4 L470.6,21.3 L471.9,21.3 L473.2,21.2 L474.6,21.1 L475.9,21.0 L477.2,21.0 L478.6,20.9 L479.9,20.9 L481.2,20.8 L482.5,20.8 L483.9,20.7 L485.2,20.7 L486.5,20.6 L487.8,20.6 L489.1,20.6 L490.5,20.5 L491.8,20.5 L493.1,20.5 L494.4,20.4 L495.8,20.4 L497.1,20.4 L498.4,20.3 L499.8,20.3 L501.1,20.3 L502.4,20.3 L503.7,20.3 L505.1,20.2 L506.4,20.2 L507.7,20.2 L509.0,20.2 L510.4,20.2 L511.7,20.1 L513.0,20.1" fill="none" stroke="#1f5cc8" stroke-width="1.7" stroke-linejoin="round"/>
<path d="M301.0,154.1 L302.3,154.0 L303.6,154.0 L305.0,154.0 L306.3,154.0 L307.6,154.0 L308.9,154.0 L310.3,154.0 L311.6,154.0 L312.9,153.9 L314.2,153.9 L315.6,153.9 L316.9,153.9 L318.2,153.9 L319.6,153.8 L320.9,153.8 L322.2,153.8 L323.5,153.8 L324.9,153.8 L326.2,153.7 L327.5,153.7 L328.8,153.7 L330.1,153.6 L331.5,153.6 L332.8,153.6 L334.1,153.5 L335.4,153.5 L336.8,153.5 L338.1,153.4 L339.4,153.4 L340.8,153.3 L342.1,153.3 L343.4,153.2 L344.7,153.1 L346.1,153.0 L347.4,153.0 L348.7,152.9 L350.0,152.8 L351.4,152.7 L352.7,152.5 L354.0,152.4 L355.3,152.2 L356.6,152.1 L358.0,151.9 L359.3,151.7 L360.6,151.4 L361.9,151.2 L363.3,150.9 L364.6,150.6 L365.9,150.2 L367.2,149.9 L368.6,149.5 L369.9,149.1 L371.2,148.6 L372.6,148.2 L373.9,147.7 L375.2,147.2 L376.5,146.7 L377.9,146.1 L379.2,145.5 L380.5,144.9 L381.8,144.3 L383.1,143.7 L384.5,143.0 L385.8,142.3 L387.1,141.6 L388.4,140.8 L389.8,140.0 L391.1,139.1 L392.4,138.2 L393.8,137.2 L395.1,136.1 L396.4,134.9 L397.7,133.5 L399.1,131.9 L400.4,129.9 L401.7,127.2 L403.0,123.5 L404.4,117.4 L405.7,107.0 L407.0,85.9 L408.3,79.3 L409.6,73.2 L411.0,68.4 L412.3,64.7 L413.6,61.6 L414.9,59.0 L416.3,56.8 L417.6,54.9 L418.9,53.1 L420.2,51.6 L421.6,50.1 L422.9,48.8 L424.2,47.6 L425.6,46.4 L426.9,45.3 L428.2,44.3 L429.5,43.3 L430.9,42.4 L432.2,41.5 L433.5,40.6 L434.8,39.8 L436.1,39.0 L437.5,38.2 L438.8,37.4 L440.1,36.7 L441.4,36.0 L442.8,35.3 L444.1,34.6 L445.4,33.9 L446.8,33.3 L448.1,32.6 L449.4,32.0 L450.7,31.4 L452.1,30.8 L453.4,30.2 L454.7,29.6 L456.0,29.0 L457.4,28.4 L458.7,27.9 L460.0,27.3 L461.3,26.8 L462.6,26.3 L464.0,25.7 L465.3,25.3 L466.6,24.8 L467.9,24.3 L469.3,23.9 L470.6,23.4 L471.9,23.0 L473.2,22.6 L474.6,22.2 L475.9,21.9 L477.2,21.5 L478.6,21.2 L479.9,20.9 L481.2,20.6 L482.5,20.3 L483.9,20.1 L485.2,19.9 L486.5,19.7 L487.8,19.5 L489.1,19.3 L490.5,19.1 L491.8,19.0 L493.1,18.8 L494.4,18.7 L495.8,18.6 L497.1,18.5 L498.4,18.4 L499.8,18.3 L501.1,18.2 L502.4,18.1 L503.7,18.1 L505.1,18.0 L506.4,18.0 L507.7,17.9 L509.0,17.9 L510.4,17.8 L511.7,17.8 L513.0,17.7" fill="none" stroke="#2e9a5c" stroke-width="1.7" stroke-linejoin="round"/>
<path d="M301.0,154.1 L302.3,154.0 L303.6,154.0 L305.0,153.9 L306.3,153.9 L307.6,153.8 L308.9,153.8 L310.3,153.7 L311.6,153.7 L312.9,153.6 L314.2,153.5 L315.6,153.4 L316.9,153.3 L318.2,153.2 L319.6,153.1 L320.9,153.0 L322.2,152.8 L323.5,152.7 L324.9,152.5 L326.2,152.3 L327.5,152.1 L328.8,151.9 L330.1,151.7 L331.5,151.5 L332.8,151.2 L334.1,150.9 L335.4,150.6 L336.8,150.3 L338.1,149.9 L339.4,149.6 L340.8,149.2 L342.1,148.8 L343.4,148.4 L344.7,147.9 L346.1,147.5 L347.4,147.0 L348.7,146.5 L350.0,146.1 L351.4,145.5 L352.7,145.0 L354.0,144.5 L355.3,143.9 L356.6,143.4 L358.0,142.8 L359.3,142.2 L360.6,141.6 L361.9,141.0 L363.3,140.4 L364.6,139.8 L365.9,139.2 L367.2,138.5 L368.6,137.9 L369.9,137.2 L371.2,136.5 L372.6,135.8 L373.9,135.1 L375.2,134.4 L376.5,133.6 L377.9,132.8 L379.2,132.0 L380.5,131.2 L381.8,130.3 L383.1,129.4 L384.5,128.5 L385.8,127.5 L387.1,126.5 L388.4,125.4 L389.8,124.2 L391.1,123.0 L392.4,121.7 L393.8,120.2 L395.1,118.7 L396.4,116.9 L397.7,115.0 L399.1,112.8 L400.4,110.2 L401.7,107.1 L403.0,103.4 L404.4,98.6 L405.7,92.5 L407.0,85.9 L408.3,64.8 L409.6,54.4 L411.0,48.3 L412.3,44.6 L413.6,41.9 L414.9,39.9 L416.3,38.3 L417.6,36.9 L418.9,35.7 L420.2,34.6 L421.6,33.6 L422.9,32.7 L424.2,31.8 L425.6,31.0 L426.9,30.2 L428.2,29.5 L429.5,28.8 L430.9,28.1 L432.2,27.5 L433.5,26.9 L434.8,26.3 L436.1,25.7 L437.5,25.1 L438.8,24.6 L440.1,24.1 L441.4,23.6 L442.8,23.2 L444.1,22.7 L445.4,22.3 L446.8,21.9 L448.1,21.6 L449.4,21.2 L450.7,20.9 L452.1,20.6 L453.4,20.4 L454.7,20.1 L456.0,19.9 L457.4,19.7 L458.7,19.6 L460.0,19.4 L461.3,19.3 L462.6,19.1 L464.0,19.0 L465.3,18.9 L466.6,18.8 L467.9,18.8 L469.3,18.7 L470.6,18.6 L471.9,18.5 L473.2,18.5 L474.6,18.4 L475.9,18.4 L477.2,18.3 L478.6,18.3 L479.9,18.3 L481.2,18.2 L482.5,18.2 L483.9,18.2 L485.2,18.1 L486.5,18.1 L487.8,18.1 L489.1,18.0 L490.5,18.0 L491.8,18.0 L493.1,18.0 L494.4,18.0 L495.8,17.9 L497.1,17.9 L498.4,17.9 L499.8,17.9 L501.1,17.9 L502.4,17.8 L503.7,17.8 L505.1,17.8 L506.4,17.8 L507.7,17.8 L509.0,17.8 L510.4,17.8 L511.7,17.8 L513.0,17.7" fill="none" stroke="#2e9a5c" stroke-width="1.7" stroke-linejoin="round"/>
<path d="M301.0,155.1 L302.3,155.1 L303.6,155.1 L305.0,155.1 L306.3,155.0 L307.6,155.0 L308.9,155.0 L310.3,155.0 L311.6,155.0 L312.9,155.0 L314.2,155.0 L315.6,155.0 L316.9,154.9 L318.2,154.9 L319.6,154.9 L320.9,154.9 L322.2,154.9 L323.5,154.8 L324.9,154.8 L326.2,154.8 L327.5,154.8 L328.8,154.8 L330.1,154.7 L331.5,154.7 L332.8,154.7 L334.1,154.6 L335.4,154.6 L336.8,154.6 L338.1,154.5 L339.4,154.5 L340.8,154.4 L342.1,154.4 L343.4,154.3 L344.7,154.3 L346.1,154.2 L347.4,154.1 L348.7,154.0 L350.0,154.0 L351.4,153.8 L352.7,153.7 L354.0,153.6 L355.3,153.4 L356.6,153.3 L358.0,153.1 L359.3,152.9 L360.6,152.6 L361.9,152.4 L363.3,152.1 L364.6,151.8 L365.9,151.5 L367.2,151.1 L368.6,150.7 L369.9,150.3 L371.2,149.9 L372.6,149.4 L373.9,148.9 L375.2,148.4 L376.5,147.9 L377.9,147.4 L379.2,146.8 L380.5,146.3 L381.8,145.7 L383.1,145.0 L384.5,144.4 L385.8,143.7 L387.1,143.1 L388.4,142.3 L389.8,141.6 L391.1,140.7 L392.4,139.8 L393.8,138.9 L395.1,137.8 L396.4,136.6 L397.7,135.3 L399.1,133.6 L400.4,131.6 L401.7,128.9 L403.0,125.1 L404.4,119.2 L405.7,108.6 L407.0,85.9 L408.3,80.2 L409.6,74.9 L411.0,70.4 L412.3,66.6 L413.6,63.5 L414.9,60.8 L416.3,58.4 L417.6,56.4 L418.9,54.6 L420.2,52.9 L421.6,51.5 L422.9,50.1 L424.2,48.9 L425.6,47.7 L426.9,46.6 L428.2,45.6 L429.5,44.6 L430.9,43.7 L432.2,42.8 L433.5,41.9 L434.8,41.0 L436.1,40.2 L437.5,39.4 L438.8,38.6 L440.1,37.8 L441.4,37.1 L442.8,36.3 L444.1,35.6 L445.4,34.9 L446.8,34.2 L448.1,33.5 L449.4,32.8 L450.7,32.1 L452.1,31.4 L453.4,30.8 L454.7,30.1 L456.0,29.5 L457.4,28.8 L458.7,28.2 L460.0,27.6 L461.3,27.0 L462.6,26.4 L464.0,25.8 L465.3,25.3 L466.6,24.7 L467.9,24.2 L469.3,23.7 L470.6,23.2 L471.9,22.7 L473.2,22.2 L474.6,21.8 L475.9,21.4 L477.2,21.0 L478.6,20.6 L479.9,20.3 L481.2,20.0 L482.5,19.7 L483.9,19.4 L485.2,19.1 L486.5,18.9 L487.8,18.7 L489.1,18.4 L490.5,18.3 L491.8,18.1 L493.1,17.9 L494.4,17.8 L495.8,17.7 L497.1,17.5 L498.4,17.4 L499.8,17.3 L501.1,17.2 L502.4,17.2 L503.7,17.1 L505.1,17.0 L506.4,17.0 L507.7,16.9 L509.0,16.8 L510.4,16.8 L511.7,16.8 L513.0,16.7" fill="none" stroke="#a876dc" stroke-width="1.7" stroke-linejoin="round"/>
<path d="M301.0,155.1 L302.3,155.0 L303.6,155.0 L305.0,155.0 L306.3,154.9 L307.6,154.8 L308.9,154.8 L310.3,154.7 L311.6,154.6 L312.9,154.6 L314.2,154.5 L315.6,154.4 L316.9,154.3 L318.2,154.1 L319.6,154.0 L320.9,153.9 L322.2,153.7 L323.5,153.5 L324.9,153.4 L326.2,153.1 L327.5,152.9 L328.8,152.7 L330.1,152.4 L331.5,152.1 L332.8,151.8 L334.1,151.5 L335.4,151.2 L336.8,150.8 L338.1,150.4 L339.4,150.0 L340.8,149.6 L342.1,149.1 L343.4,148.6 L344.7,148.1 L346.1,147.6 L347.4,147.1 L348.7,146.5 L350.0,146.0 L351.4,145.4 L352.7,144.8 L354.0,144.2 L355.3,143.6 L356.6,143.0 L358.0,142.3 L359.3,141.7 L360.6,141.0 L361.9,140.4 L363.3,139.7 L364.6,139.0 L365.9,138.3 L367.2,137.6 L368.6,136.9 L369.9,136.2 L371.2,135.5 L372.6,134.7 L373.9,134.0 L375.2,133.2 L376.5,132.4 L377.9,131.6 L379.2,130.8 L380.5,129.9 L381.8,129.0 L383.1,128.1 L384.5,127.2 L385.8,126.2 L387.1,125.2 L388.4,124.1 L389.8,122.9 L391.1,121.7 L392.4,120.3 L393.8,118.9 L395.1,117.2 L396.4,115.4 L397.7,113.4 L399.1,111.0 L400.4,108.3 L401.7,105.2 L403.0,101.4 L404.4,96.9 L405.7,91.6 L407.0,85.9 L408.3,63.2 L409.6,52.6 L411.0,46.7 L412.3,42.9 L413.6,40.2 L414.9,38.2 L416.3,36.5 L417.6,35.2 L418.9,34.0 L420.2,32.9 L421.6,32.0 L422.9,31.1 L424.2,30.2 L425.6,29.5 L426.9,28.7 L428.2,28.1 L429.5,27.4 L430.9,26.8 L432.2,26.1 L433.5,25.5 L434.8,25.0 L436.1,24.4 L437.5,23.9 L438.8,23.4 L440.1,22.9 L441.4,22.4 L442.8,21.9 L444.1,21.5 L445.4,21.1 L446.8,20.7 L448.1,20.3 L449.4,20.0 L450.7,19.7 L452.1,19.4 L453.4,19.2 L454.7,18.9 L456.0,18.7 L457.4,18.5 L458.7,18.4 L460.0,18.2 L461.3,18.1 L462.6,18.0 L464.0,17.8 L465.3,17.8 L466.6,17.7 L467.9,17.6 L469.3,17.5 L470.6,17.5 L471.9,17.4 L473.2,17.4 L474.6,17.3 L475.9,17.3 L477.2,17.2 L478.6,17.2 L479.9,17.2 L481.2,17.1 L482.5,17.1 L483.9,17.1 L485.2,17.0 L486.5,17.0 L487.8,17.0 L489.1,17.0 L490.5,17.0 L491.8,16.9 L493.1,16.9 L494.4,16.9 L495.8,16.9 L497.1,16.9 L498.4,16.8 L499.8,16.8 L501.1,16.8 L502.4,16.8 L503.7,16.8 L505.1,16.8 L506.4,16.8 L507.7,16.8 L509.0,16.7 L510.4,16.7 L511.7,16.7 L513.0,16.7" fill="none" stroke="#a876dc" stroke-width="1.7" stroke-linejoin="round"/>
<path d="M301.0,157.1 L302.3,157.1 L303.6,157.1 L305.0,157.1 L306.3,157.1 L307.6,157.1 L308.9,157.1 L310.3,157.1 L311.6,157.0 L312.9,157.0 L314.2,157.0 L315.6,157.0 L316.9,157.0 L318.2,157.0 L319.6,157.0 L320.9,157.0 L322.2,156.9 L323.5,156.9 L324.9,156.9 L326.2,156.9 L327.5,156.9 L328.8,156.8 L330.1,156.8 L331.5,156.8 L332.8,156.8 L334.1,156.7 L335.4,156.7 L336.8,156.7 L338.1,156.6 L339.4,156.6 L340.8,156.6 L342.1,156.5 L343.4,156.5 L344.7,156.4 L346.1,156.3 L347.4,156.3 L348.7,156.2 L350.0,156.1 L351.4,156.0 L352.7,155.9 L354.0,155.7 L355.3,155.6 L356.6,155.4 L358.0,155.2 L359.3,155.0 L360.6,154.8 L361.9,154.5 L363.3,154.2 L364.6,153.9 L365.9,153.6 L367.2,153.2 L368.6,152.8 L369.9,152.4 L371.2,151.9 L372.6,151.5 L373.9,151.0 L375.2,150.5 L376.5,150.0 L377.9,149.4 L379.2,148.9 L380.5,148.3 L381.8,147.7 L383.1,147.1 L384.5,146.5 L385.8,145.9 L387.1,145.2 L388.4,144.5 L389.8,143.7 L391.1,142.9 L392.4,142.0 L393.8,141.1 L395.1,140.0 L396.4,138.8 L397.7,137.5 L399.1,135.8 L400.4,133.7 L401.7,130.9 L403.0,127.1 L404.4,121.0 L405.7,110.2 L407.0,85.9 L408.3,81.0 L409.6,76.3 L411.0,72.0 L412.3,68.2 L413.6,64.9 L414.9,62.0 L416.3,59.5 L417.6,57.4 L418.9,55.5 L420.2,53.8 L421.6,52.2 L422.9,50.9 L424.2,49.6 L425.6,48.4 L426.9,47.3 L428.2,46.2 L429.5,45.2 L430.9,44.2 L432.2,43.3 L433.5,42.4 L434.8,41.5 L436.1,40.7 L437.5,39.8 L438.8,39.0 L440.1,38.2 L441.4,37.4 L442.8,36.6 L444.1,35.8 L445.4,35.0 L446.8,34.2 L448.1,33.5 L449.4,32.7 L450.7,32.0 L452.1,31.2 L453.4,30.5 L454.7,29.8 L456.0,29.1 L457.4,28.4 L458.7,27.7 L460.0,27.0 L461.3,26.3 L462.6,25.6 L464.0,25.0 L465.3,24.3 L466.6,23.7 L467.9,23.1 L469.3,22.5 L470.6,22.0 L471.9,21.4 L473.2,20.9 L474.6,20.4 L475.9,19.9 L477.2,19.5 L478.6,19.1 L479.9,18.7 L481.2,18.3 L482.5,18.0 L483.9,17.7 L485.2,17.4 L486.5,17.1 L487.8,16.8 L489.1,16.6 L490.5,16.4 L491.8,16.2 L493.1,16.0 L494.4,15.9 L495.8,15.7 L497.1,15.6 L498.4,15.5 L499.8,15.3 L501.1,15.2 L502.4,15.2 L503.7,15.1 L505.1,15.0 L506.4,14.9 L507.7,14.9 L509.0,14.8 L510.4,14.8 L511.7,14.7 L513.0,14.7" fill="none" stroke="#d4a21e" stroke-width="1.7" stroke-linejoin="round"/>
<path d="M301.0,157.1 L302.3,157.1 L303.6,157.0 L305.0,157.0 L306.3,156.9 L307.6,156.9 L308.9,156.8 L310.3,156.7 L311.6,156.6 L312.9,156.6 L314.2,156.5 L315.6,156.3 L316.9,156.2 L318.2,156.1 L319.6,155.9 L320.9,155.8 L322.2,155.6 L323.5,155.4 L324.9,155.2 L326.2,155.0 L327.5,154.7 L328.8,154.4 L330.1,154.1 L331.5,153.8 L332.8,153.5 L334.1,153.1 L335.4,152.7 L336.8,152.3 L338.1,151.9 L339.4,151.4 L340.8,150.9 L342.1,150.4 L343.4,149.8 L344.7,149.3 L346.1,148.7 L347.4,148.1 L348.7,147.5 L350.0,146.8 L351.4,146.2 L352.7,145.5 L354.0,144.8 L355.3,144.1 L356.6,143.4 L358.0,142.7 L359.3,142.0 L360.6,141.3 L361.9,140.6 L363.3,139.8 L364.6,139.1 L365.9,138.3 L367.2,137.6 L368.6,136.8 L369.9,136.0 L371.2,135.2 L372.6,134.4 L373.9,133.6 L375.2,132.8 L376.5,132.0 L377.9,131.1 L379.2,130.3 L380.5,129.4 L381.8,128.5 L383.1,127.6 L384.5,126.6 L385.8,125.6 L387.1,124.5 L388.4,123.4 L389.8,122.2 L391.1,120.9 L392.4,119.6 L393.8,118.0 L395.1,116.3 L396.4,114.4 L397.7,112.3 L399.1,109.8 L400.4,106.9 L401.7,103.6 L403.0,99.8 L404.4,95.5 L405.7,90.8 L407.0,85.9 L408.3,61.6 L409.6,50.8 L411.0,44.7 L412.3,40.9 L413.6,38.1 L414.9,36.0 L416.3,34.3 L417.6,33.0 L418.9,31.8 L420.2,30.7 L421.6,29.8 L422.9,28.9 L424.2,28.1 L425.6,27.3 L426.9,26.6 L428.2,25.9 L429.5,25.3 L430.9,24.7 L432.2,24.1 L433.5,23.5 L434.8,22.9 L436.1,22.4 L437.5,21.8 L438.8,21.3 L440.1,20.8 L441.4,20.3 L442.8,19.9 L444.1,19.4 L445.4,19.0 L446.8,18.6 L448.1,18.2 L449.4,17.9 L450.7,17.6 L452.1,17.3 L453.4,17.0 L454.7,16.8 L456.0,16.6 L457.4,16.4 L458.7,16.2 L460.0,16.1 L461.3,15.9 L462.6,15.8 L464.0,15.7 L465.3,15.6 L466.6,15.5 L467.9,15.5 L469.3,15.4 L470.6,15.3 L471.9,15.3 L473.2,15.2 L474.6,15.2 L475.9,15.2 L477.2,15.1 L478.6,15.1 L479.9,15.1 L481.2,15.0 L482.5,15.0 L483.9,15.0 L485.2,15.0 L486.5,14.9 L487.8,14.9 L489.1,14.9 L490.5,14.9 L491.8,14.9 L493.1,14.8 L494.4,14.8 L495.8,14.8 L497.1,14.8 L498.4,14.8 L499.8,14.8 L501.1,14.8 L502.4,14.8 L503.7,14.7 L505.1,14.7 L506.4,14.7 L507.7,14.7 L509.0,14.7 L510.4,14.7 L511.7,14.7 L513.0,14.7" fill="none" stroke="#d4a21e" stroke-width="1.7" stroke-linejoin="round"/>
<path d="M48.1,350.8 L49.4,350.8 L50.7,350.8 L52.1,350.8 L53.4,350.8 L54.7,350.7 L56.0,350.7 L57.4,350.7 L58.7,350.7 L60.0,350.7 L61.3,350.7 L62.6,350.6 L64.0,350.6 L65.3,350.6 L66.6,350.6 L67.9,350.6 L69.3,350.6 L70.6,350.5 L71.9,350.5 L73.2,350.5 L74.5,350.5 L75.9,350.5 L77.2,350.4 L78.5,350.4 L79.8,350.4 L81.2,350.4 L82.5,350.3 L83.8,350.3 L85.1,350.3 L86.5,350.2 L87.8,350.2 L89.1,350.2 L90.4,350.1 L91.7,350.1 L93.1,350.1 L94.4,350.0 L95.7,350.0 L97.0,349.9 L98.4,349.9 L99.7,349.8 L101.0,349.8 L102.3,349.7 L103.6,349.7 L105.0,349.6 L106.3,349.5 L107.6,349.5 L108.9,349.4 L110.3,349.3 L111.6,349.2 L112.9,349.1 L114.2,349.0 L115.5,348.9 L116.9,348.8 L118.2,348.7 L119.5,348.5 L120.8,348.4 L122.2,348.2 L123.5,348.1 L124.8,347.9 L126.1,347.7 L127.4,347.4 L128.8,347.2 L130.1,346.9 L131.4,346.5 L132.7,346.2 L134.1,345.8 L135.4,345.3 L136.7,344.8 L138.0,344.1 L139.4,343.4 L140.7,342.6 L142.0,341.5 L143.3,340.2 L144.6,338.3 L146.0,335.4 L147.3,331.0 L148.6,325.2 L149.9,318.0 L151.3,309.0 L152.6,297.0 L153.9,280.0 L155.2,264.1 L156.5,252.8 L157.9,244.2 L159.2,237.3 L160.5,231.7 L161.8,227.3 L163.2,224.4 L164.5,222.4 L165.8,220.9 L167.1,219.7 L168.4,218.6 L169.8,217.7 L171.1,216.9 L172.4,216.2 L173.7,215.6 L175.1,215.0 L176.4,214.5 L177.7,214.1 L179.0,213.7 L180.3,213.4 L181.7,213.1 L183.0,212.8 L184.3,212.5 L185.6,212.3 L187.0,212.1 L188.3,211.9 L189.6,211.8 L190.9,211.6 L192.3,211.5 L193.6,211.3 L194.9,211.2 L196.2,211.1 L197.5,211.0 L198.9,210.9 L200.2,210.8 L201.5,210.7 L202.8,210.6 L204.2,210.6 L205.5,210.5 L206.8,210.4 L208.1,210.4 L209.4,210.3 L210.8,210.2 L212.1,210.2 L213.4,210.1 L214.7,210.1 L216.1,210.0 L217.4,210.0 L218.7,209.9 L220.0,209.9 L221.3,209.9 L222.7,209.8 L224.0,209.8 L225.3,209.8 L226.6,209.7 L228.0,209.7 L229.3,209.7 L230.6,209.6 L231.9,209.6 L233.2,209.6 L234.6,209.6 L235.9,209.5 L237.2,209.5 L238.5,209.5 L239.9,209.5 L241.2,209.4 L242.5,209.4 L243.8,209.4 L245.2,209.4 L246.5,209.4 L247.8,209.3 L249.1,209.3 L250.4,209.3 L251.8,209.3 L253.1,209.3 L254.4,209.3 L255.7,209.2 L257.1,209.2 L258.4,209.2 L259.7,209.2" fill="none" stroke="#2b2b2b" stroke-width="1.7" stroke-linejoin="round"/>
<path d="M48.1,350.8 L49.4,350.8 L50.7,350.8 L52.1,350.8 L53.4,350.7 L54.7,350.7 L56.0,350.7 L57.4,350.7 L58.7,350.7 L60.0,350.7 L61.3,350.6 L62.6,350.6 L64.0,350.6 L65.3,350.6 L66.6,350.6 L67.9,350.5 L69.3,350.5 L70.6,350.5 L71.9,350.5 L73.2,350.4 L74.5,350.4 L75.9,350.4 L77.2,350.4 L78.5,350.3 L79.8,350.3 L81.2,350.3 L82.5,350.2 L83.8,350.2 L85.1,350.2 L86.5,350.1 L87.8,350.1 L89.1,350.1 L90.4,350.0 L91.7,350.0 L93.1,349.9 L94.4,349.9 L95.7,349.8 L97.0,349.8 L98.4,349.7 L99.7,349.6 L101.0,349.6 L102.3,349.5 L103.6,349.4 L105.0,349.4 L106.3,349.3 L107.6,349.2 L108.9,349.1 L110.3,349.0 L111.6,348.9 L112.9,348.8 L114.2,348.7 L115.5,348.5 L116.9,348.4 L118.2,348.2 L119.5,348.1 L120.8,347.9 L122.2,347.7 L123.5,347.5 L124.8,347.2 L126.1,346.9 L127.4,346.6 L128.8,346.3 L130.1,345.9 L131.4,345.5 L132.7,345.0 L134.1,344.4 L135.4,343.8 L136.7,343.1 L138.0,342.3 L139.4,341.4 L140.7,340.3 L142.0,339.1 L143.3,337.6 L144.6,335.6 L146.0,332.7 L147.3,328.3 L148.6,322.7 L149.9,315.8 L151.3,307.2 L152.6,295.9 L153.9,280.0 L155.2,263.0 L156.5,251.0 L157.9,242.0 L159.2,234.8 L160.5,229.0 L161.8,224.6 L163.2,221.7 L164.5,219.8 L165.8,218.5 L167.1,217.4 L168.4,216.6 L169.8,215.9 L171.1,215.2 L172.4,214.7 L173.7,214.2 L175.1,213.8 L176.4,213.5 L177.7,213.1 L179.0,212.8 L180.3,212.6 L181.7,212.3 L183.0,212.1 L184.3,211.9 L185.6,211.8 L187.0,211.6 L188.3,211.5 L189.6,211.3 L190.9,211.2 L192.3,211.1 L193.6,211.0 L194.9,210.9 L196.2,210.8 L197.5,210.7 L198.9,210.6 L200.2,210.5 L201.5,210.5 L202.8,210.4 L204.2,210.3 L205.5,210.3 L206.8,210.2 L208.1,210.2 L209.4,210.1 L210.8,210.1 L212.1,210.0 L213.4,210.0 L214.7,209.9 L216.1,209.9 L217.4,209.9 L218.7,209.8 L220.0,209.8 L221.3,209.8 L222.7,209.7 L224.0,209.7 L225.3,209.7 L226.6,209.6 L228.0,209.6 L229.3,209.6 L230.6,209.6 L231.9,209.5 L233.2,209.5 L234.6,209.5 L235.9,209.5 L237.2,209.5 L238.5,209.4 L239.9,209.4 L241.2,209.4 L242.5,209.4 L243.8,209.4 L245.2,209.4 L246.5,209.3 L247.8,209.3 L249.1,209.3 L250.4,209.3 L251.8,209.3 L253.1,209.3 L254.4,209.2 L255.7,209.2 L257.1,209.2 L258.4,209.2 L259.7,209.2" fill="none" stroke="#2b2b2b" stroke-width="1.7" stroke-linejoin="round"/>
<path d="M48.1,349.8 L49.4,349.8 L50.7,349.8 L52.1,349.7 L53.4,349.7 L54.7,349.7 L56.0,349.7 L57.4,349.7 L58.7,349.7 L60.0,349.7 L61.3,349.7 L62.6,349.6 L64.0,349.6 L65.3,349.6 L66.6,349.6 L67.9,349.6 L69.3,349.6 L70.6,349.5 L71.9,349.5 L73.2,349.5 L74.5,349.5 L75.9,349.5 L77.2,349.4 L78.5,349.4 L79.8,349.4 L81.2,349.4 L82.5,349.3 L83.8,349.3 L85.1,349.3 L86.5,349.3 L87.8,349.2 L89.1,349.2 L90.4,349.2 L91.7,349.1 L93.1,349.1 L94.4,349.1 L95.7,349.0 L97.0,349.0 L98.4,349.0 L99.7,348.9 L101.0,348.9 L102.3,348.8 L103.6,348.8 L105.0,348.7 L106.3,348.6 L107.6,348.6 L108.9,348.5 L110.3,348.4 L111.6,348.4 L112.9,348.3 L114.2,348.2 L115.5,348.1 L116.9,348.0 L118.2,347.9 L119.5,347.8 L120.8,347.7 L122.2,347.5 L123.5,347.4 L124.8,347.2 L126.1,347.0 L127.4,346.9 L128.8,346.6 L130.1,346.4 L131.4,346.1 L132.7,345.8 L134.1,345.5 L135.4,345.1 L136.7,344.7 L138.0,344.1 L139.4,343.5 L140.7,342.8 L142.0,341.8 L143.3,340.6 L144.6,338.8 L146.0,336.0 L147.3,331.6 L148.6,325.8 L149.9,318.6 L151.3,309.5 L152.6,297.3 L153.9,280.0 L155.2,263.2 L156.5,251.4 L157.9,242.5 L159.2,235.5 L160.5,229.7 L161.8,225.4 L163.2,222.5 L164.5,220.7 L165.8,219.3 L167.1,218.3 L168.4,217.5 L169.8,216.8 L171.1,216.2 L172.4,215.7 L173.7,215.2 L175.1,214.8 L176.4,214.4 L177.7,214.1 L179.0,213.8 L180.3,213.5 L181.7,213.3 L183.0,213.1 L184.3,212.9 L185.6,212.7 L187.0,212.6 L188.3,212.4 L189.6,212.3 L190.9,212.2 L192.3,212.1 L193.6,212.0 L194.9,211.9 L196.2,211.8 L197.5,211.7 L198.9,211.6 L200.2,211.5 L201.5,211.5 L202.8,211.4 L204.2,211.4 L205.5,211.3 L206.8,211.2 L208.1,211.2 L209.4,211.1 L210.8,211.1 L212.1,211.0 L213.4,211.0 L214.7,211.0 L216.1,210.9 L217.4,210.9 L218.7,210.8 L220.0,210.8 L221.3,210.8 L222.7,210.7 L224.0,210.7 L225.3,210.7 L226.6,210.7 L228.0,210.6 L229.3,210.6 L230.6,210.6 L231.9,210.6 L233.2,210.5 L234.6,210.5 L235.9,210.5 L237.2,210.5 L238.5,210.5 L239.9,210.4 L241.2,210.4 L242.5,210.4 L243.8,210.4 L245.2,210.4 L246.5,210.4 L247.8,210.3 L249.1,210.3 L250.4,210.3 L251.8,210.3 L253.1,210.3 L254.4,210.3 L255.7,210.3 L257.1,210.2 L258.4,210.2 L259.7,210.2" fill="none" stroke="#d23a44" stroke-width="1.7" stroke-linejoin="round"/>
<path d="M48.1,349.8 L49.4,349.8 L50.7,349.8 L52.1,349.7 L53.4,349.7 L54.7,349.7 L56.0,349.7 L57.4,349.7 L58.7,349.7 L60.0,349.7 L61.3,349.6 L62.6,349.6 L64.0,349.6 L65.3,349.6 L66.6,349.6 L67.9,349.6 L69.3,349.5 L70.6,349.5 L71.9,349.5 L73.2,349.5 L74.5,349.5 L75.9,349.4 L77.2,349.4 L78.5,349.4 L79.8,349.4 L81.2,349.3 L82.5,349.3 L83.8,349.3 L85.1,349.3 L86.5,349.2 L87.8,349.2 L89.1,349.2 L90.4,349.1 L91.7,349.1 L93.1,349.0 L94.4,349.0 L95.7,349.0 L97.0,348.9 L98.4,348.9 L99.7,348.8 L101.0,348.8 L102.3,348.7 L103.6,348.6 L105.0,348.6 L106.3,348.5 L107.6,348.5 L108.9,348.4 L110.3,348.3 L111.6,348.2 L112.9,348.1 L114.2,348.0 L115.5,347.9 L116.9,347.8 L118.2,347.7 L119.5,347.6 L120.8,347.4 L122.2,347.3 L123.5,347.1 L124.8,346.9 L126.1,346.7 L127.4,346.5 L128.8,346.2 L130.1,345.9 L131.4,345.6 L132.7,345.2 L134.1,344.8 L135.4,344.3 L136.7,343.8 L138.0,343.2 L139.4,342.5 L140.7,341.7 L142.0,340.7 L143.3,339.3 L144.6,337.5 L146.0,334.6 L147.3,330.3 L148.6,324.5 L149.9,317.5 L151.3,308.6 L152.6,296.8 L153.9,280.0 L155.2,262.7 L156.5,250.5 L157.9,241.4 L159.2,234.2 L160.5,228.4 L161.8,224.0 L163.2,221.2 L164.5,219.4 L165.8,218.2 L167.1,217.2 L168.4,216.5 L169.8,215.9 L171.1,215.3 L172.4,214.9 L173.7,214.5 L175.1,214.2 L176.4,213.9 L177.7,213.6 L179.0,213.4 L180.3,213.1 L181.7,213.0 L183.0,212.8 L184.3,212.6 L185.6,212.5 L187.0,212.3 L188.3,212.2 L189.6,212.1 L190.9,212.0 L192.3,211.9 L193.6,211.8 L194.9,211.7 L196.2,211.6 L197.5,211.6 L198.9,211.5 L200.2,211.4 L201.5,211.4 L202.8,211.3 L204.2,211.2 L205.5,211.2 L206.8,211.1 L208.1,211.1 L209.4,211.0 L210.8,211.0 L212.1,211.0 L213.4,210.9 L214.7,210.9 L216.1,210.9 L217.4,210.8 L218.7,210.8 L220.0,210.8 L221.3,210.7 L222.7,210.7 L224.0,210.7 L225.3,210.7 L226.6,210.6 L228.0,210.6 L229.3,210.6 L230.6,210.6 L231.9,210.5 L233.2,210.5 L234.6,210.5 L235.9,210.5 L237.2,210.5 L238.5,210.4 L239.9,210.4 L241.2,210.4 L242.5,210.4 L243.8,210.4 L245.2,210.4 L246.5,210.3 L247.8,210.3 L249.1,210.3 L250.4,210.3 L251.8,210.3 L253.1,210.3 L254.4,210.3 L255.7,210.3 L257.1,210.2 L258.4,210.2 L259.7,210.2" fill="none" stroke="#d23a44" stroke-width="1.7" stroke-linejoin="round"/>
<path d="M48.1,351.5 L49.4,351.5 L50.7,351.5 L52.1,351.4 L53.4,351.4 L54.7,351.4 L56.0,351.4 L57.4,351.4 L58.7,351.3 L60.0,351.3 L61.3,351.3 L62.6,351.3 L64.0,351.3 L65.3,351.2 L66.6,351.2 L67.9,351.2 L69.3,351.2 L70.6,351.1 L71.9,351.1 L73.2,351.1 L74.5,351.0 L75.9,351.0 L77.2,351.0 L78.5,351.0 L79.8,350.9 L81.2,350.9 L82.5,350.8 L83.8,350.8 L85.1,350.8 L86.5,350.7 L87.8,350.7 L89.1,350.6 L90.4,350.6 L91.7,350.5 L93.1,350.5 L94.4,350.4 L95.7,350.3 L97.0,350.3 L98.4,350.2 L99.7,350.1 L101.0,350.1 L102.3,350.0 L103.6,349.9 L105.0,349.8 L106.3,349.7 L107.6,349.6 L108.9,349.5 L110.3,349.4 L111.6,349.2 L112.9,349.1 L114.2,348.9 L115.5,348.8 L116.9,348.6 L118.2,348.4 L119.5,348.2 L120.8,348.0 L122.2,347.8 L123.5,347.5 L124.8,347.2 L126.1,346.8 L127.4,346.5 L128.8,346.0 L130.1,345.5 L131.4,345.0 L132.7,344.3 L134.1,343.6 L135.4,342.8 L136.7,342.0 L138.0,341.0 L139.4,339.9 L140.7,338.6 L142.0,337.2 L143.3,335.6 L144.6,333.4 L146.0,330.4 L147.3,326.0 L148.6,320.5 L149.9,313.9 L151.3,305.7 L152.6,295.0 L153.9,280.0 L155.2,266.4 L156.5,256.6 L157.9,248.9 L159.2,242.6 L160.5,237.4 L161.8,233.1 L163.2,230.0 L164.5,227.7 L165.8,225.8 L167.1,224.2 L168.4,222.7 L169.8,221.4 L171.1,220.2 L172.4,219.1 L173.7,218.1 L175.1,217.2 L176.4,216.4 L177.7,215.7 L179.0,215.1 L180.3,214.6 L181.7,214.1 L183.0,213.7 L184.3,213.3 L185.6,213.0 L187.0,212.7 L188.3,212.4 L189.6,212.1 L190.9,211.9 L192.3,211.7 L193.6,211.5 L194.9,211.3 L196.2,211.2 L197.5,211.0 L198.9,210.9 L200.2,210.7 L201.5,210.6 L202.8,210.5 L204.2,210.4 L205.5,210.3 L206.8,210.2 L208.1,210.1 L209.4,210.0 L210.8,209.9 L212.1,209.9 L213.4,209.8 L214.7,209.7 L216.1,209.6 L217.4,209.6 L218.7,209.5 L220.0,209.5 L221.3,209.4 L222.7,209.4 L224.0,209.3 L225.3,209.3 L226.6,209.2 L228.0,209.2 L229.3,209.1 L230.6,209.1 L231.9,209.1 L233.2,209.0 L234.6,209.0 L235.9,208.9 L237.2,208.9 L238.5,208.9 L239.9,208.9 L241.2,208.8 L242.5,208.8 L243.8,208.8 L245.2,208.7 L246.5,208.7 L247.8,208.7 L249.1,208.7 L250.4,208.7 L251.8,208.6 L253.1,208.6 L254.4,208.6 L255.7,208.6 L257.1,208.6 L258.4,208.5 L259.7,208.5" fill="none" stroke="#1f5cc8" stroke-width="1.7" stroke-linejoin="round"/>
<path d="M48.1,351.5 L49.4,351.5 L50.7,351.4 L52.1,351.4 L53.4,351.4 L54.7,351.4 L56.0,351.4 L57.4,351.3 L58.7,351.3 L60.0,351.3 L61.3,351.3 L62.6,351.3 L64.0,351.2 L65.3,351.2 L66.6,351.2 L67.9,351.1 L69.3,351.1 L70.6,351.1 L71.9,351.1 L73.2,351.0 L74.5,351.0 L75.9,350.9 L77.2,350.9 L78.5,350.9 L79.8,350.8 L81.2,350.8 L82.5,350.7 L83.8,350.7 L85.1,350.6 L86.5,350.6 L87.8,350.5 L89.1,350.5 L90.4,350.4 L91.7,350.4 L93.1,350.3 L94.4,350.2 L95.7,350.1 L97.0,350.1 L98.4,350.0 L99.7,349.9 L101.0,349.8 L102.3,349.7 L103.6,349.6 L105.0,349.5 L106.3,349.4 L107.6,349.3 L108.9,349.1 L110.3,349.0 L111.6,348.8 L112.9,348.7 L114.2,348.5 L115.5,348.3 L116.9,348.1 L118.2,347.9 L119.5,347.6 L120.8,347.3 L122.2,347.0 L123.5,346.7 L124.8,346.3 L126.1,345.9 L127.4,345.4 L128.8,344.9 L130.1,344.3 L131.4,343.6 L132.7,342.8 L134.1,341.9 L135.4,340.9 L136.7,339.8 L138.0,338.6 L139.4,337.3 L140.7,335.8 L142.0,334.2 L143.3,332.3 L144.6,330.0 L146.0,326.9 L147.3,322.6 L148.6,317.4 L149.9,311.1 L151.3,303.4 L152.6,293.6 L153.9,280.0 L155.2,265.0 L156.5,254.3 L157.9,246.1 L159.2,239.5 L160.5,234.0 L161.8,229.6 L163.2,226.6 L164.5,224.4 L165.8,222.8 L167.1,221.4 L168.4,220.1 L169.8,219.0 L171.1,218.0 L172.4,217.2 L173.7,216.4 L175.1,215.7 L176.4,215.0 L177.7,214.5 L179.0,214.0 L180.3,213.5 L181.7,213.2 L183.0,212.8 L184.3,212.5 L185.6,212.2 L187.0,212.0 L188.3,211.8 L189.6,211.6 L190.9,211.4 L192.3,211.2 L193.6,211.1 L194.9,210.9 L196.2,210.8 L197.5,210.6 L198.9,210.5 L200.2,210.4 L201.5,210.3 L202.8,210.2 L204.2,210.1 L205.5,210.0 L206.8,209.9 L208.1,209.9 L209.4,209.8 L210.8,209.7 L212.1,209.7 L213.4,209.6 L214.7,209.5 L216.1,209.5 L217.4,209.4 L218.7,209.4 L220.0,209.3 L221.3,209.3 L222.7,209.2 L224.0,209.2 L225.3,209.2 L226.6,209.1 L228.0,209.1 L229.3,209.0 L230.6,209.0 L231.9,209.0 L233.2,209.0 L234.6,208.9 L235.9,208.9 L237.2,208.9 L238.5,208.8 L239.9,208.8 L241.2,208.8 L242.5,208.8 L243.8,208.7 L245.2,208.7 L246.5,208.7 L247.8,208.7 L249.1,208.7 L250.4,208.6 L251.8,208.6 L253.1,208.6 L254.4,208.6 L255.7,208.6 L257.1,208.5 L258.4,208.5 L259.7,208.5" fill="none" stroke="#1f5cc8" stroke-width="1.7" stroke-linejoin="round"/>
<path d="M48.1,351.8 L49.4,351.8 L50.7,351.8 L52.1,351.8 L53.4,351.7 L54.7,351.7 L56.0,351.7 L57.4,351.7 L58.7,351.6 L60.0,351.6 L61.3,351.6 L62.6,351.5 L64.0,351.5 L65.3,351.5 L66.6,351.5 L67.9,351.4 L69.3,351.4 L70.6,351.3 L71.9,351.3 L73.2,351.3 L74.5,351.2 L75.9,351.2 L77.2,351.1 L78.5,351.1 L79.8,351.0 L81.2,351.0 L82.5,350.9 L83.8,350.9 L85.1,350.8 L86.5,350.7 L87.8,350.7 L89.1,350.6 L90.4,350.5 L91.7,350.5 L93.1,350.4 L94.4,350.3 L95.7,350.2 L97.0,350.1 L98.4,350.0 L99.7,349.9 L101.0,349.8 L102.3,349.7 L103.6,349.5 L105.0,349.4 L106.3,349.2 L107.6,349.1 L108.9,348.9 L110.3,348.7 L111.6,348.6 L112.9,348.3 L114.2,348.1 L115.5,347.9 L116.9,347.6 L118.2,347.3 L119.5,347.0 L120.8,346.7 L122.2,346.3 L123.5,345.9 L124.8,345.4 L126.1,344.8 L127.4,344.2 L128.8,343.5 L130.1,342.7 L131.4,341.8 L132.7,340.8 L134.1,339.6 L135.4,338.3 L136.7,336.9 L138.0,335.3 L139.4,333.6 L140.7,331.8 L142.0,329.8 L143.3,327.6 L144.6,325.0 L146.0,321.8 L147.3,317.7 L148.6,312.7 L149.9,307.0 L151.3,300.1 L152.6,291.5 L153.9,280.0 L155.2,269.9 L156.5,262.1 L157.9,255.8 L159.2,250.4 L160.5,245.7 L161.8,241.7 L163.2,238.4 L164.5,235.7 L165.8,233.3 L167.1,231.0 L168.4,229.0 L169.8,227.0 L171.1,225.3 L172.4,223.6 L173.7,222.1 L175.1,220.8 L176.4,219.6 L177.7,218.5 L179.0,217.6 L180.3,216.8 L181.7,216.1 L183.0,215.5 L184.3,214.9 L185.6,214.4 L187.0,214.0 L188.3,213.6 L189.6,213.2 L190.9,212.9 L192.3,212.6 L193.6,212.3 L194.9,212.1 L196.2,211.9 L197.5,211.6 L198.9,211.4 L200.2,211.2 L201.5,211.1 L202.8,210.9 L204.2,210.7 L205.5,210.6 L206.8,210.5 L208.1,210.3 L209.4,210.2 L210.8,210.1 L212.1,210.0 L213.4,209.9 L214.7,209.8 L216.1,209.7 L217.4,209.6 L218.7,209.5 L220.0,209.5 L221.3,209.4 L222.7,209.3 L224.0,209.2 L225.3,209.2 L226.6,209.1 L228.0,209.1 L229.3,209.0 L230.6,208.9 L231.9,208.9 L233.2,208.8 L234.6,208.8 L235.9,208.8 L237.2,208.7 L238.5,208.7 L239.9,208.6 L241.2,208.6 L242.5,208.6 L243.8,208.5 L245.2,208.5 L246.5,208.4 L247.8,208.4 L249.1,208.4 L250.4,208.4 L251.8,208.3 L253.1,208.3 L254.4,208.3 L255.7,208.2 L257.1,208.2 L258.4,208.2 L259.7,208.2" fill="none" stroke="#2e9a5c" stroke-width="1.7" stroke-linejoin="round"/>
<path d="M48.1,351.8 L49.4,351.8 L50.7,351.8 L52.1,351.8 L53.4,351.7 L54.7,351.7 L56.0,351.7 L57.4,351.6 L58.7,351.6 L60.0,351.6 L61.3,351.6 L62.6,351.5 L64.0,351.5 L65.3,351.4 L66.6,351.4 L67.9,351.4 L69.3,351.3 L70.6,351.3 L71.9,351.2 L73.2,351.2 L74.5,351.2 L75.9,351.1 L77.2,351.1 L78.5,351.0 L79.8,350.9 L81.2,350.9 L82.5,350.8 L83.8,350.8 L85.1,350.7 L86.5,350.6 L87.8,350.5 L89.1,350.5 L90.4,350.4 L91.7,350.3 L93.1,350.2 L94.4,350.1 L95.7,350.0 L97.0,349.9 L98.4,349.8 L99.7,349.7 L101.0,349.5 L102.3,349.4 L103.6,349.3 L105.0,349.1 L106.3,348.9 L107.6,348.8 L108.9,348.6 L110.3,348.4 L111.6,348.1 L112.9,347.9 L114.2,347.7 L115.5,347.4 L116.9,347.1 L118.2,346.8 L119.5,346.4 L120.8,346.0 L122.2,345.6 L123.5,345.1 L124.8,344.5 L126.1,343.9 L127.4,343.2 L128.8,342.4 L130.1,341.5 L131.4,340.4 L132.7,339.2 L134.1,337.9 L135.4,336.4 L136.7,334.7 L138.0,333.0 L139.4,331.0 L140.7,329.0 L142.0,326.7 L143.3,324.3 L144.6,321.6 L146.0,318.3 L147.3,314.3 L148.6,309.6 L149.9,304.2 L151.3,297.9 L152.6,290.1 L153.9,280.0 L155.2,268.5 L156.5,259.9 L157.9,253.0 L159.2,247.3 L160.5,242.3 L161.8,238.2 L163.2,235.0 L164.5,232.4 L165.8,230.2 L167.1,228.2 L168.4,226.4 L169.8,224.7 L171.1,223.1 L172.4,221.7 L173.7,220.4 L175.1,219.2 L176.4,218.2 L177.7,217.3 L179.0,216.5 L180.3,215.8 L181.7,215.2 L183.0,214.6 L184.3,214.1 L185.6,213.7 L187.0,213.3 L188.3,213.0 L189.6,212.7 L190.9,212.4 L192.3,212.1 L193.6,211.9 L194.9,211.7 L196.2,211.4 L197.5,211.3 L198.9,211.1 L200.2,210.9 L201.5,210.8 L202.8,210.6 L204.2,210.5 L205.5,210.3 L206.8,210.2 L208.1,210.1 L209.4,210.0 L210.8,209.9 L212.1,209.8 L213.4,209.7 L214.7,209.6 L216.1,209.5 L217.4,209.5 L218.7,209.4 L220.0,209.3 L221.3,209.3 L222.7,209.2 L224.0,209.1 L225.3,209.1 L226.6,209.0 L228.0,209.0 L229.3,208.9 L230.6,208.9 L231.9,208.8 L233.2,208.8 L234.6,208.7 L235.9,208.7 L237.2,208.7 L238.5,208.6 L239.9,208.6 L241.2,208.5 L242.5,208.5 L243.8,208.5 L245.2,208.5 L246.5,208.4 L247.8,208.4 L249.1,208.4 L250.4,208.3 L251.8,208.3 L253.1,208.3 L254.4,208.3 L255.7,208.2 L257.1,208.2 L258.4,208.2 L259.7,208.2" fill="none" stroke="#2e9a5c" stroke-width="1.7" stroke-linejoin="round"/>
<path d="M48.1,354.5 L49.4,354.5 L50.7,354.5 L52.1,354.5 L53.4,354.4 L54.7,354.4 L56.0,354.4 L57.4,354.3 L58.7,354.3 L60.0,354.3 L61.3,354.2 L62.6,354.2 L64.0,354.1 L65.3,354.1 L66.6,354.1 L67.9,354.0 L69.3,354.0 L70.6,353.9 L71.9,353.9 L73.2,353.8 L74.5,353.7 L75.9,353.7 L77.2,353.6 L78.5,353.6 L79.8,353.5 L81.2,353.4 L82.5,353.4 L83.8,353.3 L85.1,353.2 L86.5,353.1 L87.8,353.0 L89.1,352.9 L90.4,352.8 L91.7,352.7 L93.1,352.6 L94.4,352.5 L95.7,352.4 L97.0,352.2 L98.4,352.1 L99.7,351.9 L101.0,351.8 L102.3,351.6 L103.6,351.4 L105.0,351.3 L106.3,351.1 L107.6,350.8 L108.9,350.6 L110.3,350.4 L111.6,350.1 L112.9,349.8 L114.2,349.5 L115.5,349.2 L116.9,348.8 L118.2,348.4 L119.5,348.0 L120.8,347.5 L122.2,346.9 L123.5,346.3 L124.8,345.7 L126.1,344.9 L127.4,344.0 L128.8,343.0 L130.1,341.9 L131.4,340.5 L132.7,339.1 L134.1,337.4 L135.4,335.5 L136.7,333.5 L138.0,331.3 L139.4,328.9 L140.7,326.4 L142.0,323.7 L143.3,320.9 L144.6,317.8 L146.0,314.3 L147.3,310.3 L148.6,305.7 L149.9,300.7 L151.3,295.0 L152.6,288.3 L153.9,280.0 L155.2,273.1 L156.5,267.3 L157.9,262.2 L159.2,257.6 L160.5,253.3 L161.8,249.3 L163.2,245.8 L164.5,242.5 L165.8,239.5 L167.1,236.6 L168.4,233.8 L169.8,231.2 L171.1,228.7 L172.4,226.5 L173.7,224.4 L175.1,222.6 L176.4,220.9 L177.7,219.4 L179.0,218.2 L180.3,217.0 L181.7,216.1 L183.0,215.2 L184.3,214.5 L185.6,213.8 L187.0,213.2 L188.3,212.7 L189.6,212.2 L190.9,211.7 L192.3,211.3 L193.6,211.0 L194.9,210.6 L196.2,210.3 L197.5,210.0 L198.9,209.8 L200.2,209.5 L201.5,209.3 L202.8,209.0 L204.2,208.8 L205.5,208.6 L206.8,208.5 L208.1,208.3 L209.4,208.1 L210.8,208.0 L212.1,207.8 L213.4,207.7 L214.7,207.6 L216.1,207.5 L217.4,207.3 L218.7,207.2 L220.0,207.1 L221.3,207.0 L222.7,206.9 L224.0,206.8 L225.3,206.8 L226.6,206.7 L228.0,206.6 L229.3,206.5 L230.6,206.5 L231.9,206.4 L233.2,206.3 L234.6,206.3 L235.9,206.2 L237.2,206.1 L238.5,206.1 L239.9,206.0 L241.2,206.0 L242.5,205.9 L243.8,205.9 L245.2,205.8 L246.5,205.8 L247.8,205.8 L249.1,205.7 L250.4,205.7 L251.8,205.6 L253.1,205.6 L254.4,205.6 L255.7,205.5 L257.1,205.5 L258.4,205.5 L259.7,205.5" fill="none" stroke="#a876dc" stroke-width="1.7" stroke-linejoin="round"/>
<path d="M48.1,354.5 L49.4,354.5 L50.7,354.5 L52.1,354.5 L53.4,354.4 L54.7,354.4 L56.0,354.4 L57.4,354.3 L58.7,354.3 L60.0,354.2 L61.3,354.2 L62.6,354.2 L64.0,354.1 L65.3,354.1 L66.6,354.0 L67.9,354.0 L69.3,353.9 L70.6,353.9 L71.9,353.8 L73.2,353.7 L74.5,353.7 L75.9,353.6 L77.2,353.5 L78.5,353.5 L79.8,353.4 L81.2,353.3 L82.5,353.2 L83.8,353.2 L85.1,353.1 L86.5,353.0 L87.8,352.9 L89.1,352.8 L90.4,352.7 L91.7,352.5 L93.1,352.4 L94.4,352.3 L95.7,352.2 L97.0,352.0 L98.4,351.9 L99.7,351.7 L101.0,351.5 L102.3,351.4 L103.6,351.2 L105.0,351.0 L106.3,350.7 L107.6,350.5 L108.9,350.2 L110.3,350.0 L111.6,349.7 L112.9,349.4 L114.2,349.0 L115.5,348.7 L116.9,348.3 L118.2,347.8 L119.5,347.3 L120.8,346.8 L122.2,346.2 L123.5,345.5 L124.8,344.8 L126.1,343.9 L127.4,343.0 L128.8,341.8 L130.1,340.6 L131.4,339.1 L132.7,337.4 L134.1,335.6 L135.4,333.5 L136.7,331.3 L138.0,328.8 L139.4,326.2 L140.7,323.4 L142.0,320.5 L143.3,317.5 L144.6,314.2 L146.0,310.7 L147.3,306.7 L148.6,302.4 L149.9,297.8 L151.3,292.7 L152.6,286.9 L153.9,280.0 L155.2,271.7 L156.5,265.0 L157.9,259.3 L159.2,254.3 L160.5,249.7 L161.8,245.7 L163.2,242.2 L164.5,239.1 L165.8,236.3 L167.1,233.6 L168.4,231.1 L169.8,228.7 L171.1,226.5 L172.4,224.5 L173.7,222.6 L175.1,220.9 L176.4,219.5 L177.7,218.1 L179.0,217.0 L180.3,216.0 L181.7,215.1 L183.0,214.3 L184.3,213.7 L185.6,213.1 L187.0,212.5 L188.3,212.0 L189.6,211.6 L190.9,211.2 L192.3,210.8 L193.6,210.5 L194.9,210.2 L196.2,209.9 L197.5,209.6 L198.9,209.4 L200.2,209.2 L201.5,208.9 L202.8,208.7 L204.2,208.6 L205.5,208.4 L206.8,208.2 L208.1,208.1 L209.4,207.9 L210.8,207.8 L212.1,207.6 L213.4,207.5 L214.7,207.4 L216.1,207.3 L217.4,207.2 L218.7,207.1 L220.0,207.0 L221.3,206.9 L222.7,206.8 L224.0,206.7 L225.3,206.6 L226.6,206.6 L228.0,206.5 L229.3,206.4 L230.6,206.4 L231.9,206.3 L233.2,206.3 L234.6,206.2 L235.9,206.1 L237.2,206.1 L238.5,206.0 L239.9,206.0 L241.2,205.9 L242.5,205.9 L243.8,205.9 L245.2,205.8 L246.5,205.8 L247.8,205.7 L249.1,205.7 L250.4,205.7 L251.8,205.6 L253.1,205.6 L254.4,205.6 L255.7,205.5 L257.1,205.5 L258.4,205.5 L259.7,205.5" fill="none" stroke="#a876dc" stroke-width="1.7" stroke-linejoin="round"/>
<path d="M48.1,352.8 L49.4,352.8 L50.7,352.8 L52.1,352.7 L53.4,352.7 L54.7,352.7 L56.0,352.6 L57.4,352.6 L58.7,352.6 L60.0,352.5 L61.3,352.5 L62.6,352.4 L64.0,352.4 L65.3,352.3 L66.6,352.3 L67.9,352.2 L69.3,352.2 L70.6,352.1 L71.9,352.0 L73.2,352.0 L74.5,351.9 L75.9,351.8 L77.2,351.8 L78.5,351.7 L79.8,351.6 L81.2,351.5 L82.5,351.4 L83.8,351.3 L85.1,351.3 L86.5,351.1 L87.8,351.0 L89.1,350.9 L90.4,350.8 L91.7,350.7 L93.1,350.6 L94.4,350.4 L95.7,350.3 L97.0,350.1 L98.4,349.9 L99.7,349.8 L101.0,349.6 L102.3,349.4 L103.6,349.2 L105.0,348.9 L106.3,348.7 L107.6,348.5 L108.9,348.2 L110.3,347.9 L111.6,347.6 L112.9,347.2 L114.2,346.8 L115.5,346.4 L116.9,346.0 L118.2,345.5 L119.5,345.0 L120.8,344.4 L122.2,343.7 L123.5,343.0 L124.8,342.2 L126.1,341.2 L127.4,340.2 L128.8,338.9 L130.1,337.5 L131.4,335.9 L132.7,334.1 L134.1,332.0 L135.4,329.7 L136.7,327.3 L138.0,324.6 L139.4,321.7 L140.7,318.7 L142.0,315.6 L143.3,312.3 L144.6,308.9 L146.0,305.3 L147.3,301.6 L148.6,297.7 L149.9,293.6 L151.3,289.4 L152.6,284.9 L153.9,280.0 L155.2,276.1 L156.5,272.2 L157.9,268.4 L159.2,264.6 L160.5,260.8 L161.8,257.2 L163.2,253.5 L164.5,250.0 L165.8,246.6 L167.1,243.3 L168.4,240.1 L169.8,237.1 L171.1,234.3 L172.4,231.6 L173.7,229.2 L175.1,227.0 L176.4,225.1 L177.7,223.4 L179.0,221.9 L180.3,220.6 L181.7,219.4 L183.0,218.4 L184.3,217.5 L185.6,216.8 L187.0,216.1 L188.3,215.4 L189.6,214.9 L190.9,214.4 L192.3,213.9 L193.6,213.5 L194.9,213.1 L196.2,212.7 L197.5,212.4 L198.9,212.1 L200.2,211.8 L201.5,211.5 L202.8,211.3 L204.2,211.0 L205.5,210.8 L206.8,210.6 L208.1,210.4 L209.4,210.2 L210.8,210.0 L212.1,209.9 L213.4,209.7 L214.7,209.6 L216.1,209.4 L217.4,209.3 L218.7,209.2 L220.0,209.1 L221.3,208.9 L222.7,208.8 L224.0,208.7 L225.3,208.6 L226.6,208.5 L228.0,208.5 L229.3,208.4 L230.6,208.3 L231.9,208.2 L233.2,208.1 L234.6,208.1 L235.9,208.0 L237.2,207.9 L238.5,207.9 L239.9,207.8 L241.2,207.8 L242.5,207.7 L243.8,207.6 L245.2,207.6 L246.5,207.6 L247.8,207.5 L249.1,207.5 L250.4,207.4 L251.8,207.4 L253.1,207.3 L254.4,207.3 L255.7,207.3 L257.1,207.2 L258.4,207.2 L259.7,207.2" fill="none" stroke="#d4a21e" stroke-width="1.7" stroke-linejoin="round"/>
<path d="M48.1,352.8 L49.4,352.8 L50.7,352.8 L52.1,352.7 L53.4,352.7 L54.7,352.7 L56.0,352.6 L57.4,352.6 L58.7,352.5 L60.0,352.5 L61.3,352.4 L62.6,352.4 L64.0,352.4 L65.3,352.3 L66.6,352.2 L67.9,352.2 L69.3,352.1 L70.6,352.1 L71.9,352.0 L73.2,351.9 L74.5,351.9 L75.9,351.8 L77.2,351.7 L78.5,351.6 L79.8,351.5 L81.2,351.5 L82.5,351.4 L83.8,351.3 L85.1,351.2 L86.5,351.1 L87.8,350.9 L89.1,350.8 L90.4,350.7 L91.7,350.6 L93.1,350.4 L94.4,350.3 L95.7,350.1 L97.0,350.0 L98.4,349.8 L99.7,349.6 L101.0,349.4 L102.3,349.2 L103.6,349.0 L105.0,348.7 L106.3,348.5 L107.6,348.2 L108.9,347.9 L110.3,347.6 L111.6,347.3 L112.9,346.9 L114.2,346.5 L115.5,346.1 L116.9,345.6 L118.2,345.1 L119.5,344.6 L120.8,343.9 L122.2,343.2 L123.5,342.5 L124.8,341.6 L126.1,340.6 L127.4,339.4 L128.8,338.1 L130.1,336.6 L131.4,334.9 L132.7,333.0 L134.1,330.8 L135.4,328.4 L136.7,325.7 L138.0,322.9 L139.4,319.9 L140.7,316.7 L142.0,313.4 L143.3,310.0 L144.6,306.5 L146.0,302.8 L147.3,299.2 L148.6,295.4 L149.9,291.6 L151.3,287.8 L152.6,283.9 L153.9,280.0 L155.2,275.1 L156.5,270.6 L157.9,266.4 L159.2,262.3 L160.5,258.4 L161.8,254.7 L163.2,251.1 L164.5,247.7 L165.8,244.4 L167.1,241.3 L168.4,238.3 L169.8,235.4 L171.1,232.7 L172.4,230.3 L173.7,228.0 L175.1,225.9 L176.4,224.1 L177.7,222.5 L179.0,221.1 L180.3,219.8 L181.7,218.8 L183.0,217.8 L184.3,217.0 L185.6,216.3 L187.0,215.6 L188.3,215.0 L189.6,214.5 L190.9,214.0 L192.3,213.6 L193.6,213.2 L194.9,212.8 L196.2,212.4 L197.5,212.1 L198.9,211.8 L200.2,211.5 L201.5,211.3 L202.8,211.1 L204.2,210.8 L205.5,210.6 L206.8,210.4 L208.1,210.2 L209.4,210.1 L210.8,209.9 L212.1,209.7 L213.4,209.6 L214.7,209.4 L216.1,209.3 L217.4,209.2 L218.7,209.1 L220.0,209.0 L221.3,208.9 L222.7,208.7 L224.0,208.7 L225.3,208.6 L226.6,208.5 L228.0,208.4 L229.3,208.3 L230.6,208.2 L231.9,208.2 L233.2,208.1 L234.6,208.0 L235.9,208.0 L237.2,207.9 L238.5,207.8 L239.9,207.8 L241.2,207.7 L242.5,207.7 L243.8,207.6 L245.2,207.6 L246.5,207.5 L247.8,207.5 L249.1,207.4 L250.4,207.4 L251.8,207.4 L253.1,207.3 L254.4,207.3 L255.7,207.3 L257.1,207.2 L258.4,207.2 L259.7,207.2" fill="none" stroke="#d4a21e" stroke-width="1.7" stroke-linejoin="round"/>
<path d="M301.1,349.1 L302.4,349.1 L303.7,349.1 L305.1,349.1 L306.4,349.1 L307.7,349.1 L309.0,349.1 L310.4,349.1 L311.7,349.1 L313.0,349.1 L314.3,349.1 L315.6,349.1 L317.0,349.1 L318.3,349.1 L319.6,349.1 L320.9,349.1 L322.2,349.1 L323.6,349.1 L324.9,349.1 L326.2,349.1 L327.5,349.1 L328.9,349.1 L330.2,349.1 L331.5,349.1 L332.8,349.1 L334.1,349.1 L335.5,349.1 L336.8,349.1 L338.1,349.0 L339.4,349.0 L340.8,349.0 L342.1,349.0 L343.4,349.0 L344.7,349.0 L346.0,349.0 L347.4,349.0 L348.7,349.0 L350.0,349.0 L351.3,349.0 L352.7,349.0 L354.0,349.0 L355.3,349.0 L356.6,349.0 L357.9,349.0 L359.3,349.0 L360.6,349.0 L361.9,349.0 L363.2,349.0 L364.6,349.0 L365.9,349.0 L367.2,349.0 L368.5,348.9 L369.8,348.9 L371.2,348.9 L372.5,348.8 L373.8,348.7 L375.1,348.6 L376.4,348.5 L377.8,348.4 L379.1,348.1 L380.4,347.8 L381.7,347.4 L383.1,346.8 L384.4,346.0 L385.7,345.0 L387.0,343.5 L388.3,341.7 L389.7,339.4 L391.0,336.6 L392.3,333.5 L393.6,330.0 L395.0,326.2 L396.3,322.3 L397.6,318.3 L398.9,314.2 L400.2,310.1 L401.6,306.0 L402.9,301.8 L404.2,297.7 L405.5,293.6 L406.9,289.4 L408.2,285.3 L409.5,281.2 L410.8,277.0 L412.1,272.9 L413.5,268.8 L414.8,264.6 L416.1,260.5 L417.4,256.4 L418.7,252.2 L420.1,248.1 L421.4,244.0 L422.7,239.9 L424.0,236.0 L425.4,232.1 L426.7,228.4 L428.0,225.0 L429.3,222.0 L430.6,219.4 L432.0,217.2 L433.3,215.5 L434.6,214.2 L435.9,213.2 L437.3,212.5 L438.6,212.0 L439.9,211.6 L441.2,211.3 L442.5,211.1 L443.9,211.0 L445.2,210.8 L446.5,210.8 L447.8,210.7 L449.1,210.6 L450.5,210.6 L451.8,210.6 L453.1,210.6 L454.4,210.5 L455.8,210.5 L457.1,210.5 L458.4,210.5 L459.7,210.5 L461.0,210.5 L462.4,210.5 L463.7,210.5 L465.0,210.5 L466.3,210.5 L467.7,210.5 L469.0,210.5 L470.3,210.5 L471.6,210.5 L472.9,210.5 L474.3,210.5 L475.6,210.5 L476.9,210.5 L478.2,210.5 L479.6,210.5 L480.9,210.5 L482.2,210.5 L483.5,210.5 L484.8,210.5 L486.2,210.5 L487.5,210.5 L488.8,210.5 L490.1,210.5 L491.5,210.5 L492.8,210.5 L494.1,210.5 L495.4,210.5 L496.7,210.5 L498.1,210.5 L499.4,210.5 L500.7,210.5 L502.0,210.5 L503.3,210.5 L504.7,210.5 L506.0,210.5 L507.3,210.5 L508.6,210.5 L510.0,210.5 L511.3,210.5 L512.6,210.5" fill="none" stroke="#2b2b2b" stroke-width="1.7" stroke-linejoin="round"/>
<path d="M301.1,349.1 L302.4,349.1 L303.7,349.1 L305.1,349.1 L306.4,349.1 L307.7,349.1 L309.0,349.1 L310.4,349.1 L311.7,349.1 L313.0,349.1 L314.3,349.1 L315.6,349.1 L317.0,349.1 L318.3,349.1 L319.6,349.1 L320.9,349.1 L322.2,349.1 L323.6,349.1 L324.9,349.1 L326.2,349.1 L327.5,349.1 L328.9,349.1 L330.2,349.1 L331.5,349.1 L332.8,349.1 L334.1,349.0 L335.5,349.0 L336.8,349.0 L338.1,349.0 L339.4,349.0 L340.8,349.0 L342.1,349.0 L343.4,349.0 L344.7,349.0 L346.0,349.0 L347.4,349.0 L348.7,349.0 L350.0,349.0 L351.3,349.0 L352.7,349.0 L354.0,349.0 L355.3,349.0 L356.6,349.0 L357.9,349.0 L359.3,349.0 L360.6,349.0 L361.9,349.0 L363.2,348.9 L364.6,348.9 L365.9,348.9 L367.2,348.8 L368.5,348.8 L369.8,348.7 L371.2,348.6 L372.5,348.4 L373.8,348.2 L375.1,348.0 L376.4,347.6 L377.8,347.1 L379.1,346.4 L380.4,345.4 L381.7,344.2 L383.1,342.5 L384.4,340.4 L385.7,337.8 L387.0,334.8 L388.3,331.4 L389.7,327.7 L391.0,323.9 L392.3,319.9 L393.6,315.8 L395.0,311.7 L396.3,307.6 L397.6,303.5 L398.9,299.3 L400.2,295.2 L401.6,291.1 L402.9,286.9 L404.2,282.8 L405.5,278.7 L406.9,274.5 L408.2,270.4 L409.5,266.3 L410.8,262.1 L412.1,258.0 L413.5,253.9 L414.8,249.8 L416.1,245.6 L417.4,241.6 L418.7,237.5 L420.1,233.6 L421.4,229.8 L422.7,226.3 L424.0,223.1 L425.4,220.3 L426.7,218.0 L428.0,216.1 L429.3,214.7 L430.6,213.6 L432.0,212.8 L433.3,212.2 L434.6,211.7 L435.9,211.4 L437.3,211.2 L438.6,211.0 L439.9,210.9 L441.2,210.8 L442.5,210.7 L443.9,210.7 L445.2,210.6 L446.5,210.6 L447.8,210.6 L449.1,210.5 L450.5,210.5 L451.8,210.5 L453.1,210.5 L454.4,210.5 L455.8,210.5 L457.1,210.5 L458.4,210.5 L459.7,210.5 L461.0,210.5 L462.4,210.5 L463.7,210.5 L465.0,210.5 L466.3,210.5 L467.7,210.5 L469.0,210.5 L470.3,210.5 L471.6,210.5 L472.9,210.5 L474.3,210.5 L475.6,210.5 L476.9,210.5 L478.2,210.5 L479.6,210.5 L480.9,210.5 L482.2,210.5 L483.5,210.5 L484.8,210.5 L486.2,210.5 L487.5,210.5 L488.8,210.5 L490.1,210.5 L491.5,210.5 L492.8,210.5 L494.1,210.5 L495.4,210.5 L496.7,210.5 L498.1,210.5 L499.4,210.5 L500.7,210.5 L502.0,210.5 L503.3,210.5 L504.7,210.5 L506.0,210.5 L507.3,210.5 L508.6,210.5 L510.0,210.5 L511.3,210.5 L512.6,210.5" fill="none" stroke="#2b2b2b" stroke-width="1.7" stroke-linejoin="round"/>
<path d="M301.1,344.2 L302.4,344.2 L303.7,344.2 L305.1,344.2 L306.4,344.2 L307.7,344.2 L309.0,344.2 L310.4,344.2 L311.7,344.2 L313.0,344.2 L314.3,344.2 L315.6,344.2 L317.0,344.2 L318.3,344.2 L319.6,344.2 L320.9,344.2 L322.2,344.2 L323.6,344.2 L324.9,344.2 L326.2,344.2 L327.5,344.2 L328.9,344.2 L330.2,344.2 L331.5,344.2 L332.8,344.2 L334.1,344.2 L335.5,344.2 L336.8,344.2 L338.1,344.2 L339.4,344.2 L340.8,344.2 L342.1,344.2 L343.4,344.2 L344.7,344.2 L346.0,344.2 L347.4,344.2 L348.7,344.2 L350.0,344.2 L351.3,344.2 L352.7,344.2 L354.0,344.2 L355.3,344.2 L356.6,344.2 L357.9,344.2 L359.3,344.2 L360.6,344.2 L361.9,344.2 L363.2,344.2 L364.6,344.2 L365.9,344.1 L367.2,344.1 L368.5,344.1 L369.8,344.1 L371.2,344.1 L372.5,344.1 L373.8,344.0 L375.1,344.0 L376.4,343.9 L377.8,343.8 L379.1,343.7 L380.4,343.6 L381.7,343.3 L383.1,343.0 L384.4,342.6 L385.7,342.0 L387.0,341.2 L388.3,340.1 L389.7,338.6 L391.0,336.7 L392.3,334.3 L393.6,331.5 L395.0,328.3 L396.3,324.7 L397.6,321.0 L398.9,317.1 L400.2,313.2 L401.6,309.2 L402.9,305.2 L404.2,301.2 L405.5,297.2 L406.9,293.2 L408.2,289.1 L409.5,285.1 L410.8,281.1 L412.1,277.1 L413.5,273.1 L414.8,269.1 L416.1,265.1 L417.4,261.1 L418.7,257.1 L420.1,253.0 L421.4,249.1 L422.7,245.1 L424.0,241.2 L425.4,237.3 L426.7,233.6 L428.0,230.2 L429.3,227.1 L430.6,224.4 L432.0,222.1 L433.3,220.3 L434.6,218.9 L435.9,217.9 L437.3,217.1 L438.6,216.6 L439.9,216.2 L441.2,215.9 L442.5,215.7 L443.9,215.5 L445.2,215.4 L446.5,215.4 L447.8,215.3 L449.1,215.2 L450.5,215.2 L451.8,215.2 L453.1,215.2 L454.4,215.1 L455.8,215.1 L457.1,215.1 L458.4,215.1 L459.7,215.1 L461.0,215.1 L462.4,215.1 L463.7,215.1 L465.0,215.1 L466.3,215.1 L467.7,215.1 L469.0,215.1 L470.3,215.1 L471.6,215.1 L472.9,215.1 L474.3,215.1 L475.6,215.1 L476.9,215.1 L478.2,215.1 L479.6,215.1 L480.9,215.1 L482.2,215.1 L483.5,215.1 L484.8,215.1 L486.2,215.1 L487.5,215.1 L488.8,215.1 L490.1,215.1 L491.5,215.1 L492.8,215.1 L494.1,215.1 L495.4,215.1 L496.7,215.1 L498.1,215.1 L499.4,215.1 L500.7,215.1 L502.0,215.1 L503.3,215.1 L504.7,215.1 L506.0,215.1 L507.3,215.1 L508.6,215.1 L510.0,215.1 L511.3,215.1 L512.6,215.1" fill="none" stroke="#d23a44" stroke-width="1.7" stroke-linejoin="round"/>
<path d="M301.1,344.2 L302.4,344.2 L303.7,344.2 L305.1,344.2 L306.4,344.2 L307.7,344.2 L309.0,344.2 L310.4,344.2 L311.7,344.2 L313.0,344.2 L314.3,344.2 L315.6,344.2 L317.0,344.2 L318.3,344.2 L319.6,344.2 L320.9,344.2 L322.2,344.2 L323.6,344.2 L324.9,344.2 L326.2,344.2 L327.5,344.2 L328.9,344.2 L330.2,344.2 L331.5,344.2 L332.8,344.2 L334.1,344.2 L335.5,344.2 L336.8,344.2 L338.1,344.2 L339.4,344.2 L340.8,344.2 L342.1,344.2 L343.4,344.2 L344.7,344.2 L346.0,344.2 L347.4,344.2 L348.7,344.2 L350.0,344.2 L351.3,344.2 L352.7,344.2 L354.0,344.2 L355.3,344.2 L356.6,344.2 L357.9,344.1 L359.3,344.1 L360.6,344.1 L361.9,344.1 L363.2,344.1 L364.6,344.1 L365.9,344.0 L367.2,344.0 L368.5,343.9 L369.8,343.9 L371.2,343.8 L372.5,343.6 L373.8,343.4 L375.1,343.2 L376.4,342.8 L377.8,342.3 L379.1,341.6 L380.4,340.6 L381.7,339.3 L383.1,337.5 L384.4,335.3 L385.7,332.7 L387.0,329.6 L388.3,326.2 L389.7,322.5 L391.0,318.7 L392.3,314.8 L393.6,310.8 L395.0,306.8 L396.3,302.8 L397.6,298.8 L398.9,294.8 L400.2,290.8 L401.6,286.7 L402.9,282.7 L404.2,278.7 L405.5,274.7 L406.9,270.7 L408.2,266.7 L409.5,262.7 L410.8,258.7 L412.1,254.7 L413.5,250.6 L414.8,246.7 L416.1,242.7 L417.4,238.8 L418.7,235.1 L420.1,231.5 L421.4,228.3 L422.7,225.4 L424.0,222.9 L425.4,221.0 L426.7,219.4 L428.0,218.2 L429.3,217.4 L430.6,216.8 L432.0,216.3 L433.3,216.0 L434.6,215.8 L435.9,215.6 L437.3,215.5 L438.6,215.4 L439.9,215.3 L441.2,215.3 L442.5,215.2 L443.9,215.2 L445.2,215.2 L446.5,215.2 L447.8,215.1 L449.1,215.1 L450.5,215.1 L451.8,215.1 L453.1,215.1 L454.4,215.1 L455.8,215.1 L457.1,215.1 L458.4,215.1 L459.7,215.1 L461.0,215.1 L462.4,215.1 L463.7,215.1 L465.0,215.1 L466.3,215.1 L467.7,215.1 L469.0,215.1 L470.3,215.1 L471.6,215.1 L472.9,215.1 L474.3,215.1 L475.6,215.1 L476.9,215.1 L478.2,215.1 L479.6,215.1 L480.9,215.1 L482.2,215.1 L483.5,215.1 L484.8,215.1 L486.2,215.1 L487.5,215.1 L488.8,215.1 L490.1,215.1 L491.5,215.1 L492.8,215.1 L494.1,215.1 L495.4,215.1 L496.7,215.1 L498.1,215.1 L499.4,215.1 L500.7,215.1 L502.0,215.1 L503.3,215.1 L504.7,215.1 L506.0,215.1 L507.3,215.1 L508.6,215.1 L510.0,215.1 L511.3,215.1 L512.6,215.1" fill="none" stroke="#d23a44" stroke-width="1.7" stroke-linejoin="round"/>
<path d="M301.1,339.1 L302.4,339.1 L303.7,339.1 L305.1,339.1 L306.4,339.1 L307.7,339.1 L309.0,339.1 L310.4,339.1 L311.7,339.1 L313.0,339.1 L314.3,339.1 L315.6,339.1 L317.0,339.1 L318.3,339.1 L319.6,339.1 L320.9,339.1 L322.2,339.1 L323.6,339.1 L324.9,339.1 L326.2,339.1 L327.5,339.1 L328.9,339.1 L330.2,339.1 L331.5,339.1 L332.8,339.1 L334.1,339.1 L335.5,339.1 L336.8,339.1 L338.1,339.1 L339.4,339.1 L340.8,339.1 L342.1,339.1 L343.4,339.1 L344.7,339.1 L346.0,339.1 L347.4,339.1 L348.7,339.1 L350.0,339.1 L351.3,339.1 L352.7,339.1 L354.0,339.1 L355.3,339.1 L356.6,339.1 L357.9,339.1 L359.3,339.1 L360.6,339.1 L361.9,339.1 L363.2,339.1 L364.6,339.1 L365.9,339.1 L367.2,339.1 L368.5,339.0 L369.8,339.0 L371.2,339.0 L372.5,339.0 L373.8,339.0 L375.1,339.0 L376.4,338.9 L377.8,338.9 L379.1,338.8 L380.4,338.8 L381.7,338.7 L383.1,338.5 L384.4,338.3 L385.7,338.0 L387.0,337.6 L388.3,337.1 L389.7,336.3 L391.0,335.2 L392.3,333.7 L393.6,331.7 L395.0,329.3 L396.3,326.4 L397.6,323.2 L398.9,319.6 L400.2,315.9 L401.6,312.1 L402.9,308.3 L404.2,304.4 L405.5,300.5 L406.9,296.7 L408.2,292.8 L409.5,288.9 L410.8,285.0 L412.1,281.1 L413.5,277.2 L414.8,273.3 L416.1,269.4 L417.4,265.5 L418.7,261.6 L420.1,257.8 L421.4,253.9 L422.7,250.0 L424.0,246.2 L425.4,242.4 L426.7,238.8 L428.0,235.3 L429.3,232.2 L430.6,229.5 L432.0,227.2 L433.3,225.4 L434.6,224.0 L435.9,223.0 L437.3,222.3 L438.6,221.8 L439.9,221.4 L441.2,221.1 L442.5,220.9 L443.9,220.8 L445.2,220.7 L446.5,220.7 L447.8,220.6 L449.1,220.6 L450.5,220.5 L451.8,220.5 L453.1,220.5 L454.4,220.5 L455.8,220.5 L457.1,220.5 L458.4,220.5 L459.7,220.5 L461.0,220.4 L462.4,220.4 L463.7,220.4 L465.0,220.4 L466.3,220.4 L467.7,220.4 L469.0,220.4 L470.3,220.4 L471.6,220.4 L472.9,220.4 L474.3,220.4 L475.6,220.4 L476.9,220.4 L478.2,220.4 L479.6,220.4 L480.9,220.4 L482.2,220.4 L483.5,220.4 L484.8,220.4 L486.2,220.4 L487.5,220.4 L488.8,220.4 L490.1,220.4 L491.5,220.4 L492.8,220.4 L494.1,220.4 L495.4,220.4 L496.7,220.4 L498.1,220.4 L499.4,220.4 L500.7,220.4 L502.0,220.4 L503.3,220.4 L504.7,220.4 L506.0,220.4 L507.3,220.4 L508.6,220.4 L510.0,220.4 L511.3,220.4 L512.6,220.4" fill="none" stroke="#1f5cc8" stroke-width="1.7" stroke-linejoin="round"/>
<path d="M301.1,339.1 L302.4,339.1 L303.7,339.1 L305.1,339.1 L306.4,339.1 L307.7,339.1 L309.0,339.1 L310.4,339.1 L311.7,339.1 L313.0,339.1 L314.3,339.1 L315.6,339.1 L317.0,339.1 L318.3,339.1 L319.6,339.1 L320.9,339.1 L322.2,339.1 L323.6,339.1 L324.9,339.1 L326.2,339.1 L327.5,339.1 L328.9,339.1 L330.2,339.1 L331.5,339.1 L332.8,339.1 L334.1,339.1 L335.5,339.1 L336.8,339.1 L338.1,339.1 L339.4,339.1 L340.8,339.1 L342.1,339.1 L343.4,339.1 L344.7,339.1 L346.0,339.1 L347.4,339.1 L348.7,339.1 L350.0,339.1 L351.3,339.1 L352.7,339.1 L354.0,339.1 L355.3,339.1 L356.6,339.1 L357.9,339.1 L359.3,339.0 L360.6,339.0 L361.9,339.0 L363.2,339.0 L364.6,339.0 L365.9,339.0 L367.2,338.9 L368.5,338.9 L369.8,338.8 L371.2,338.7 L372.5,338.6 L373.8,338.4 L375.1,338.2 L376.4,337.8 L377.8,337.3 L379.1,336.6 L380.4,335.7 L381.7,334.3 L383.1,332.6 L384.4,330.3 L385.7,327.6 L387.0,324.5 L388.3,321.1 L389.7,317.4 L391.0,313.7 L392.3,309.8 L393.6,306.0 L395.0,302.1 L396.3,298.2 L397.6,294.3 L398.9,290.4 L400.2,286.5 L401.6,282.6 L402.9,278.8 L404.2,274.9 L405.5,271.0 L406.9,267.1 L408.2,263.2 L409.5,259.3 L410.8,255.4 L412.1,251.5 L413.5,247.7 L414.8,243.9 L416.1,240.2 L417.4,236.7 L418.7,233.4 L420.1,230.5 L421.4,228.0 L422.7,226.0 L424.0,224.5 L425.4,223.4 L426.7,222.5 L428.0,221.9 L429.3,221.5 L430.6,221.2 L432.0,221.0 L433.3,220.9 L434.6,220.8 L435.9,220.7 L437.3,220.6 L438.6,220.6 L439.9,220.5 L441.2,220.5 L442.5,220.5 L443.9,220.5 L445.2,220.5 L446.5,220.5 L447.8,220.5 L449.1,220.5 L450.5,220.5 L451.8,220.4 L453.1,220.4 L454.4,220.4 L455.8,220.4 L457.1,220.4 L458.4,220.4 L459.7,220.4 L461.0,220.4 L462.4,220.4 L463.7,220.4 L465.0,220.4 L466.3,220.4 L467.7,220.4 L469.0,220.4 L470.3,220.4 L471.6,220.4 L472.9,220.4 L474.3,220.4 L475.6,220.4 L476.9,220.4 L478.2,220.4 L479.6,220.4 L480.9,220.4 L482.2,220.4 L483.5,220.4 L484.8,220.4 L486.2,220.4 L487.5,220.4 L488.8,220.4 L490.1,220.4 L491.5,220.4 L492.8,220.4 L494.1,220.4 L495.4,220.4 L496.7,220.4 L498.1,220.4 L499.4,220.4 L500.7,220.4 L502.0,220.4 L503.3,220.4 L504.7,220.4 L506.0,220.4 L507.3,220.4 L508.6,220.4 L510.0,220.4 L511.3,220.4 L512.6,220.4" fill="none" stroke="#1f5cc8" stroke-width="1.7" stroke-linejoin="round"/>
<path d="M301.1,332.0 L302.4,332.0 L303.7,332.0 L305.1,332.0 L306.4,332.0 L307.7,332.0 L309.0,332.0 L310.4,332.0 L311.7,332.0 L313.0,332.0 L314.3,332.0 L315.6,332.0 L317.0,332.0 L318.3,332.0 L319.6,332.0 L320.9,332.0 L322.2,332.0 L323.6,332.0 L324.9,332.0 L326.2,332.0 L327.5,332.0 L328.9,332.0 L330.2,332.0 L331.5,332.0 L332.8,332.0 L334.1,332.0 L335.5,332.0 L336.8,332.0 L338.1,332.0 L339.4,332.0 L340.8,332.0 L342.1,332.0 L343.4,332.0 L344.7,332.0 L346.0,332.0 L347.4,332.0 L348.7,332.0 L350.0,332.0 L351.3,332.0 L352.7,332.0 L354.0,332.0 L355.3,332.0 L356.6,332.0 L357.9,332.0 L359.3,332.0 L360.6,332.0 L361.9,332.0 L363.2,332.0 L364.6,332.0 L365.9,332.0 L367.2,332.0 L368.5,332.0 L369.8,332.0 L371.2,332.0 L372.5,332.0 L373.8,332.0 L375.1,332.0 L376.4,332.0 L377.8,332.0 L379.1,332.0 L380.4,331.9 L381.7,331.9 L383.1,331.8 L384.4,331.8 L385.7,331.7 L387.0,331.5 L388.3,331.4 L389.7,331.1 L391.0,330.6 L392.3,330.0 L393.6,329.1 L395.0,327.9 L396.3,326.2 L397.6,323.9 L398.9,321.2 L400.2,318.1 L401.6,314.7 L402.9,311.1 L404.2,307.4 L405.5,303.7 L406.9,299.9 L408.2,296.1 L409.5,292.4 L410.8,288.6 L412.1,284.8 L413.5,281.1 L414.8,277.3 L416.1,273.5 L417.4,269.7 L418.7,266.0 L420.1,262.2 L421.4,258.4 L422.7,254.7 L424.0,251.0 L425.4,247.3 L426.7,243.7 L428.0,240.4 L429.3,237.4 L430.6,234.7 L432.0,232.6 L433.3,231.0 L434.6,229.8 L435.9,228.9 L437.3,228.3 L438.6,227.9 L439.9,227.7 L441.2,227.5 L442.5,227.3 L443.9,227.3 L445.2,227.2 L446.5,227.1 L447.8,227.1 L449.1,227.1 L450.5,227.1 L451.8,227.0 L453.1,227.0 L454.4,227.0 L455.8,227.0 L457.1,227.0 L458.4,227.0 L459.7,227.0 L461.0,227.0 L462.4,227.0 L463.7,227.0 L465.0,227.0 L466.3,227.0 L467.7,227.0 L469.0,227.0 L470.3,227.0 L471.6,227.0 L472.9,227.0 L474.3,227.0 L475.6,227.0 L476.9,227.0 L478.2,227.0 L479.6,227.0 L480.9,227.0 L482.2,227.0 L483.5,227.0 L484.8,227.0 L486.2,227.0 L487.5,227.0 L488.8,227.0 L490.1,227.0 L491.5,227.0 L492.8,227.0 L494.1,227.0 L495.4,227.0 L496.7,227.0 L498.1,227.0 L499.4,227.0 L500.7,227.0 L502.0,227.0 L503.3,227.0 L504.7,227.0 L506.0,227.0 L507.3,227.0 L508.6,227.0 L510.0,227.0 L511.3,227.0 L512.6,227.0" fill="none" stroke="#2e9a5c" stroke-width="1.7" stroke-linejoin="round"/>
<path d="M301.1,332.0 L302.4,332.0 L303.7,332.0 L305.1,332.0 L306.4,332.0 L307.7,332.0 L309.0,332.0 L310.4,332.0 L311.7,332.0 L313.0,332.0 L314.3,332.0 L315.6,332.0 L317.0,332.0 L318.3,332.0 L319.6,332.0 L320.9,332.0 L322.2,332.0 L323.6,332.0 L324.9,332.0 L326.2,332.0 L327.5,332.0 L328.9,332.0 L330.2,332.0 L331.5,332.0 L332.8,332.0 L334.1,332.0 L335.5,332.0 L336.8,332.0 L338.1,332.0 L339.4,332.0 L340.8,332.0 L342.1,332.0 L343.4,332.0 L344.7,332.0 L346.0,332.0 L347.4,332.0 L348.7,332.0 L350.0,332.0 L351.3,332.0 L352.7,332.0 L354.0,332.0 L355.3,332.0 L356.6,332.0 L357.9,332.0 L359.3,332.0 L360.6,332.0 L361.9,332.0 L363.2,332.0 L364.6,332.0 L365.9,332.0 L367.2,331.9 L368.5,331.9 L369.8,331.9 L371.2,331.8 L372.5,331.7 L373.8,331.6 L375.1,331.4 L376.4,331.2 L377.8,330.8 L379.1,330.3 L380.4,329.5 L381.7,328.4 L383.1,326.9 L384.4,324.9 L385.7,322.4 L387.0,319.4 L388.3,316.1 L389.7,312.5 L391.0,308.9 L392.3,305.2 L393.6,301.4 L395.0,297.6 L396.3,293.9 L397.6,290.1 L398.9,286.3 L400.2,282.6 L401.6,278.8 L402.9,275.0 L404.2,271.3 L405.5,267.5 L406.9,263.7 L408.2,260.0 L409.5,256.2 L410.8,252.5 L412.1,248.8 L413.5,245.1 L414.8,241.7 L416.1,238.5 L417.4,235.7 L418.7,233.4 L420.1,231.6 L421.4,230.2 L422.7,229.2 L424.0,228.6 L425.4,228.1 L426.7,227.8 L428.0,227.5 L429.3,227.4 L430.6,227.3 L432.0,227.2 L433.3,227.2 L434.6,227.1 L435.9,227.1 L437.3,227.1 L438.6,227.1 L439.9,227.0 L441.2,227.0 L442.5,227.0 L443.9,227.0 L445.2,227.0 L446.5,227.0 L447.8,227.0 L449.1,227.0 L450.5,227.0 L451.8,227.0 L453.1,227.0 L454.4,227.0 L455.8,227.0 L457.1,227.0 L458.4,227.0 L459.7,227.0 L461.0,227.0 L462.4,227.0 L463.7,227.0 L465.0,227.0 L466.3,227.0 L467.7,227.0 L469.0,227.0 L470.3,227.0 L471.6,227.0 L472.9,227.0 L474.3,227.0 L475.6,227.0 L476.9,227.0 L478.2,227.0 L479.6,227.0 L480.9,227.0 L482.2,227.0 L483.5,227.0 L484.8,227.0 L486.2,227.0 L487.5,227.0 L488.8,227.0 L490.1,227.0 L491.5,227.0 L492.8,227.0 L494.1,227.0 L495.4,227.0 L496.7,227.0 L498.1,227.0 L499.4,227.0 L500.7,227.0 L502.0,227.0 L503.3,227.0 L504.7,227.0 L506.0,227.0 L507.3,227.0 L508.6,227.0 L510.0,227.0 L511.3,227.0 L512.6,227.0" fill="none" stroke="#2e9a5c" stroke-width="1.7" stroke-linejoin="round"/>
<path d="M301.1,323.5 L302.4,323.5 L303.7,323.5 L305.1,323.5 L306.4,323.5 L307.7,323.5 L309.0,323.5 L310.4,323.5 L311.7,323.5 L313.0,323.5 L314.3,323.5 L315.6,323.5 L317.0,323.5 L318.3,323.5 L319.6,323.5 L320.9,323.5 L322.2,323.5 L323.6,323.5 L324.9,323.5 L326.2,323.5 L327.5,323.5 L328.9,323.5 L330.2,323.5 L331.5,323.5 L332.8,323.5 L334.1,323.5 L335.5,323.5 L336.8,323.5 L338.1,323.5 L339.4,323.5 L340.8,323.5 L342.1,323.5 L343.4,323.5 L344.7,323.5 L346.0,323.5 L347.4,323.5 L348.7,323.5 L350.0,323.5 L351.3,323.5 L352.7,323.5 L354.0,323.5 L355.3,323.5 L356.6,323.5 L357.9,323.5 L359.3,323.5 L360.6,323.5 L361.9,323.5 L363.2,323.5 L364.6,323.5 L365.9,323.5 L367.2,323.5 L368.5,323.5 L369.8,323.5 L371.2,323.5 L372.5,323.5 L373.8,323.5 L375.1,323.5 L376.4,323.5 L377.8,323.5 L379.1,323.5 L380.4,323.5 L381.7,323.5 L383.1,323.5 L384.4,323.5 L385.7,323.4 L387.0,323.4 L388.3,323.3 L389.7,323.3 L391.0,323.2 L392.3,323.0 L393.6,322.8 L395.0,322.4 L396.3,321.8 L397.6,320.9 L398.9,319.6 L400.2,317.8 L401.6,315.5 L402.9,312.7 L404.2,309.6 L405.5,306.3 L406.9,302.8 L408.2,299.3 L409.5,295.8 L410.8,292.3 L412.1,288.7 L413.5,285.2 L414.8,281.7 L416.1,278.2 L417.4,274.6 L418.7,271.1 L420.1,267.6 L421.4,264.1 L422.7,260.5 L424.0,257.0 L425.4,253.6 L426.7,250.2 L428.0,247.1 L429.3,244.2 L430.6,241.8 L432.0,240.0 L433.3,238.6 L434.6,237.7 L435.9,237.0 L437.3,236.6 L438.6,236.3 L439.9,236.1 L441.2,236.0 L442.5,235.9 L443.9,235.9 L445.2,235.9 L446.5,235.8 L447.8,235.8 L449.1,235.8 L450.5,235.8 L451.8,235.8 L453.1,235.8 L454.4,235.8 L455.8,235.8 L457.1,235.8 L458.4,235.8 L459.7,235.8 L461.0,235.8 L462.4,235.8 L463.7,235.8 L465.0,235.8 L466.3,235.8 L467.7,235.8 L469.0,235.7 L470.3,235.7 L471.6,235.7 L472.9,235.7 L474.3,235.7 L475.6,235.7 L476.9,235.7 L478.2,235.7 L479.6,235.7 L480.9,235.7 L482.2,235.7 L483.5,235.7 L484.8,235.7 L486.2,235.7 L487.5,235.7 L488.8,235.7 L490.1,235.7 L491.5,235.7 L492.8,235.7 L494.1,235.7 L495.4,235.7 L496.7,235.7 L498.1,235.7 L499.4,235.7 L500.7,235.7 L502.0,235.7 L503.3,235.7 L504.7,235.7 L506.0,235.7 L507.3,235.7 L508.6,235.7 L510.0,235.7 L511.3,235.7 L512.6,235.7" fill="none" stroke="#a876dc" stroke-width="1.7" stroke-linejoin="round"/>
<path d="M301.1,323.5 L302.4,323.5 L303.7,323.5 L305.1,323.5 L306.4,323.5 L307.7,323.5 L309.0,323.5 L310.4,323.5 L311.7,323.5 L313.0,323.5 L314.3,323.5 L315.6,323.5 L317.0,323.5 L318.3,323.5 L319.6,323.5 L320.9,323.5 L322.2,323.5 L323.6,323.5 L324.9,323.5 L326.2,323.5 L327.5,323.5 L328.9,323.5 L330.2,323.5 L331.5,323.5 L332.8,323.5 L334.1,323.5 L335.5,323.5 L336.8,323.5 L338.1,323.5 L339.4,323.5 L340.8,323.5 L342.1,323.5 L343.4,323.5 L344.7,323.5 L346.0,323.5 L347.4,323.5 L348.7,323.5 L350.0,323.5 L351.3,323.5 L352.7,323.5 L354.0,323.5 L355.3,323.5 L356.6,323.5 L357.9,323.5 L359.3,323.5 L360.6,323.5 L361.9,323.5 L363.2,323.5 L364.6,323.5 L365.9,323.5 L367.2,323.5 L368.5,323.5 L369.8,323.4 L371.2,323.4 L372.5,323.3 L373.8,323.3 L375.1,323.2 L376.4,323.0 L377.8,322.8 L379.1,322.4 L380.4,321.8 L381.7,320.9 L383.1,319.6 L384.4,317.8 L385.7,315.5 L387.0,312.7 L388.3,309.6 L389.7,306.3 L391.0,302.8 L392.3,299.3 L393.6,295.8 L395.0,292.3 L396.3,288.7 L397.6,285.2 L398.9,281.7 L400.2,278.2 L401.6,274.6 L402.9,271.1 L404.2,267.6 L405.5,264.1 L406.9,260.5 L408.2,257.0 L409.5,253.6 L410.8,250.2 L412.1,247.1 L413.5,244.2 L414.8,241.8 L416.1,240.0 L417.4,238.6 L418.7,237.7 L420.1,237.0 L421.4,236.6 L422.7,236.3 L424.0,236.1 L425.4,236.0 L426.7,235.9 L428.0,235.9 L429.3,235.9 L430.6,235.8 L432.0,235.8 L433.3,235.8 L434.6,235.8 L435.9,235.8 L437.3,235.8 L438.6,235.8 L439.9,235.8 L441.2,235.8 L442.5,235.8 L443.9,235.8 L445.2,235.8 L446.5,235.8 L447.8,235.8 L449.1,235.8 L450.5,235.8 L451.8,235.8 L453.1,235.7 L454.4,235.7 L455.8,235.7 L457.1,235.7 L458.4,235.7 L459.7,235.7 L461.0,235.7 L462.4,235.7 L463.7,235.7 L465.0,235.7 L466.3,235.7 L467.7,235.7 L469.0,235.7 L470.3,235.7 L471.6,235.7 L472.9,235.7 L474.3,235.7 L475.6,235.7 L476.9,235.7 L478.2,235.7 L479.6,235.7 L480.9,235.7 L482.2,235.7 L483.5,235.7 L484.8,235.7 L486.2,235.7 L487.5,235.7 L488.8,235.7 L490.1,235.7 L491.5,235.7 L492.8,235.7 L494.1,235.7 L495.4,235.7 L496.7,235.7 L498.1,235.7 L499.4,235.7 L500.7,235.7 L502.0,235.7 L503.3,235.7 L504.7,235.7 L506.0,235.7 L507.3,235.7 L508.6,235.7 L510.0,235.7 L511.3,235.7 L512.6,235.7" fill="none" stroke="#a876dc" stroke-width="1.7" stroke-linejoin="round"/>
</g>
<line x1="48.1" y1="85.90" x2="260.0" y2="85.90" stroke="#000" stroke-width="1.6"/>
<line x1="154.05" y1="0.7" x2="154.05" y2="171.1" stroke="#000" stroke-width="1.6"/>
<rect x="48.1" y="0.7" width="211.90" height="170.40" fill="none" stroke="#000" stroke-width="1.6"/>
<line x1="301.0" y1="85.90" x2="513.0" y2="85.90" stroke="#000" stroke-width="1.6"/>
<line x1="407.00" y1="0.7" x2="407.00" y2="171.1" stroke="#000" stroke-width="1.6"/>
<rect x="301.0" y="0.7" width="212.00" height="170.40" fill="none" stroke="#000" stroke-width="1.6"/>
<line x1="48.1" y1="280.00" x2="259.7" y2="280.00" stroke="#000" stroke-width="1.6"/>
<line x1="153.90" y1="194.9" x2="153.90" y2="365.1" stroke="#000" stroke-width="1.6"/>
<rect x="48.1" y="194.9" width="211.60" height="170.20" fill="none" stroke="#000" stroke-width="1.6"/>
<line x1="301.1" y1="280.00" x2="512.6" y2="280.00" stroke="#000" stroke-width="1.6"/>
<line x1="406.85" y1="194.9" x2="406.85" y2="365.1" stroke="#000" stroke-width="1.6"/>
<rect x="301.1" y="194.9" width="211.50" height="170.20" fill="none" stroke="#000" stroke-width="1.6"/>

<line x1="74.59" y1="171.1" x2="74.59" y2="169.29999999999998" stroke="#000" stroke-width="1.2"/>
<line x1="74.59" y1="0.7" x2="74.59" y2="2.5" stroke="#000" stroke-width="1.2"/>
<line x1="101.08" y1="171.1" x2="101.08" y2="168.1" stroke="#000" stroke-width="1.2"/>
<line x1="101.08" y1="0.7" x2="101.08" y2="3.7" stroke="#000" stroke-width="1.2"/>
<line x1="127.56" y1="171.1" x2="127.56" y2="169.29999999999998" stroke="#000" stroke-width="1.2"/>
<line x1="127.56" y1="0.7" x2="127.56" y2="2.5" stroke="#000" stroke-width="1.2"/>
<line x1="154.05" y1="171.1" x2="154.05" y2="168.1" stroke="#000" stroke-width="1.2"/>
<line x1="154.05" y1="0.7" x2="154.05" y2="3.7" stroke="#000" stroke-width="1.2"/>
<line x1="180.54" y1="171.1" x2="180.54" y2="169.29999999999998" stroke="#000" stroke-width="1.2"/>
<line x1="180.54" y1="0.7" x2="180.54" y2="2.5" stroke="#000" stroke-width="1.2"/>
<line x1="207.03" y1="171.1" x2="207.03" y2="168.1" stroke="#000" stroke-width="1.2"/>
<line x1="207.03" y1="0.7" x2="207.03" y2="3.7" stroke="#000" stroke-width="1.2"/>
<line x1="233.51" y1="171.1" x2="233.51" y2="169.29999999999998" stroke="#000" stroke-width="1.2"/>
<line x1="233.51" y1="0.7" x2="233.51" y2="2.5" stroke="#000" stroke-width="1.2"/>
<line x1="48.1" y1="154.06" x2="51.1" y2="154.06" stroke="#000" stroke-width="1.2"/>
<line x1="48.1" y1="137.02" x2="49.9" y2="137.02" stroke="#000" stroke-width="1.2"/>
<line x1="48.1" y1="119.98" x2="51.1" y2="119.98" stroke="#000" stroke-width="1.2"/>
<line x1="48.1" y1="102.94" x2="49.9" y2="102.94" stroke="#000" stroke-width="1.2"/>
<line x1="48.1" y1="85.90" x2="51.1" y2="85.90" stroke="#000" stroke-width="1.2"/>
<line x1="48.1" y1="68.86" x2="49.9" y2="68.86" stroke="#000" stroke-width="1.2"/>
<line x1="48.1" y1="51.82" x2="51.1" y2="51.82" stroke="#000" stroke-width="1.2"/>
<line x1="48.1" y1="34.78" x2="49.9" y2="34.78" stroke="#000" stroke-width="1.2"/>
<line x1="48.1" y1="17.74" x2="51.1" y2="17.74" stroke="#000" stroke-width="1.2"/>
<line x1="327.50" y1="171.1" x2="327.50" y2="169.29999999999998" stroke="#000" stroke-width="1.2"/>
<line x1="327.50" y1="0.7" x2="327.50" y2="2.5" stroke="#000" stroke-width="1.2"/>
<line x1="354.00" y1="171.1" x2="354.00" y2="168.1" stroke="#000" stroke-width="1.2"/>
<line x1="354.00" y1="0.7" x2="354.00" y2="3.7" stroke="#000" stroke-width="1.2"/>
<line x1="380.50" y1="171.1" x2="380.50" y2="169.29999999999998" stroke="#000" stroke-width="1.2"/>
<line x1="380.50" y1="0.7" x2="380.50" y2="2.5" stroke="#000" stroke-width="1.2"/>
<line x1="407.00" y1="171.1" x2="407.00" y2="168.1" stroke="#000" stroke-width="1.2"/>
<line x1="407.00" y1="0.7" x2="407.00" y2="3.7" stroke="#000" stroke-width="1.2"/>
<line x1="433.50" y1="171.1" x2="433.50" y2="169.29999999999998" stroke="#000" stroke-width="1.2"/>
<line x1="433.50" y1="0.7" x2="433.50" y2="2.5" stroke="#000" stroke-width="1.2"/>
<line x1="460.00" y1="171.1" x2="460.00" y2="168.1" stroke="#000" stroke-width="1.2"/>
<line x1="460.00" y1="0.7" x2="460.00" y2="3.7" stroke="#000" stroke-width="1.2"/>
<line x1="486.50" y1="171.1" x2="486.50" y2="169.29999999999998" stroke="#000" stroke-width="1.2"/>
<line x1="486.50" y1="0.7" x2="486.50" y2="2.5" stroke="#000" stroke-width="1.2"/>
<line x1="301.0" y1="154.06" x2="304.0" y2="154.06" stroke="#000" stroke-width="1.2"/>
<line x1="301.0" y1="137.02" x2="302.8" y2="137.02" stroke="#000" stroke-width="1.2"/>
<line x1="301.0" y1="119.98" x2="304.0" y2="119.98" stroke="#000" stroke-width="1.2"/>
<line x1="301.0" y1="102.94" x2="302.8" y2="102.94" stroke="#000" stroke-width="1.2"/>
<line x1="301.0" y1="85.90" x2="304.0" y2="85.90" stroke="#000" stroke-width="1.2"/>
<line x1="301.0" y1="68.86" x2="302.8" y2="68.86" stroke="#000" stroke-width="1.2"/>
<line x1="301.0" y1="51.82" x2="304.0" y2="51.82" stroke="#000" stroke-width="1.2"/>
<line x1="301.0" y1="34.78" x2="302.8" y2="34.78" stroke="#000" stroke-width="1.2"/>
<line x1="301.0" y1="17.74" x2="304.0" y2="17.74" stroke="#000" stroke-width="1.2"/>
<line x1="74.55" y1="365.1" x2="74.55" y2="363.3" stroke="#000" stroke-width="1.2"/>
<line x1="74.55" y1="194.9" x2="74.55" y2="196.70000000000002" stroke="#000" stroke-width="1.2"/>
<line x1="101.00" y1="365.1" x2="101.00" y2="362.1" stroke="#000" stroke-width="1.2"/>
<line x1="101.00" y1="194.9" x2="101.00" y2="197.9" stroke="#000" stroke-width="1.2"/>
<line x1="127.45" y1="365.1" x2="127.45" y2="363.3" stroke="#000" stroke-width="1.2"/>
<line x1="127.45" y1="194.9" x2="127.45" y2="196.70000000000002" stroke="#000" stroke-width="1.2"/>
<line x1="153.90" y1="365.1" x2="153.90" y2="362.1" stroke="#000" stroke-width="1.2"/>
<line x1="153.90" y1="194.9" x2="153.90" y2="197.9" stroke="#000" stroke-width="1.2"/>
<line x1="180.35" y1="365.1" x2="180.35" y2="363.3" stroke="#000" stroke-width="1.2"/>
<line x1="180.35" y1="194.9" x2="180.35" y2="196.70000000000002" stroke="#000" stroke-width="1.2"/>
<line x1="206.80" y1="365.1" x2="206.80" y2="362.1" stroke="#000" stroke-width="1.2"/>
<line x1="206.80" y1="194.9" x2="206.80" y2="197.9" stroke="#000" stroke-width="1.2"/>
<line x1="233.25" y1="365.1" x2="233.25" y2="363.3" stroke="#000" stroke-width="1.2"/>
<line x1="233.25" y1="194.9" x2="233.25" y2="196.70000000000002" stroke="#000" stroke-width="1.2"/>
<line x1="48.1" y1="348.08" x2="51.1" y2="348.08" stroke="#000" stroke-width="1.2"/>
<line x1="48.1" y1="331.06" x2="49.9" y2="331.06" stroke="#000" stroke-width="1.2"/>
<line x1="48.1" y1="314.04" x2="51.1" y2="314.04" stroke="#000" stroke-width="1.2"/>
<line x1="48.1" y1="297.02" x2="49.9" y2="297.02" stroke="#000" stroke-width="1.2"/>
<line x1="48.1" y1="280.00" x2="51.1" y2="280.00" stroke="#000" stroke-width="1.2"/>
<line x1="48.1" y1="262.98" x2="49.9" y2="262.98" stroke="#000" stroke-width="1.2"/>
<line x1="48.1" y1="245.96" x2="51.1" y2="245.96" stroke="#000" stroke-width="1.2"/>
<line x1="48.1" y1="228.94" x2="49.9" y2="228.94" stroke="#000" stroke-width="1.2"/>
<line x1="48.1" y1="211.92" x2="51.1" y2="211.92" stroke="#000" stroke-width="1.2"/>
<line x1="327.54" y1="365.1" x2="327.54" y2="363.3" stroke="#000" stroke-width="1.2"/>
<line x1="327.54" y1="194.9" x2="327.54" y2="196.70000000000002" stroke="#000" stroke-width="1.2"/>
<line x1="353.98" y1="365.1" x2="353.98" y2="362.1" stroke="#000" stroke-width="1.2"/>
<line x1="353.98" y1="194.9" x2="353.98" y2="197.9" stroke="#000" stroke-width="1.2"/>
<line x1="380.41" y1="365.1" x2="380.41" y2="363.3" stroke="#000" stroke-width="1.2"/>
<line x1="380.41" y1="194.9" x2="380.41" y2="196.70000000000002" stroke="#000" stroke-width="1.2"/>
<line x1="406.85" y1="365.1" x2="406.85" y2="362.1" stroke="#000" stroke-width="1.2"/>
<line x1="406.85" y1="194.9" x2="406.85" y2="197.9" stroke="#000" stroke-width="1.2"/>
<line x1="433.29" y1="365.1" x2="433.29" y2="363.3" stroke="#000" stroke-width="1.2"/>
<line x1="433.29" y1="194.9" x2="433.29" y2="196.70000000000002" stroke="#000" stroke-width="1.2"/>
<line x1="459.73" y1="365.1" x2="459.73" y2="362.1" stroke="#000" stroke-width="1.2"/>
<line x1="459.73" y1="194.9" x2="459.73" y2="197.9" stroke="#000" stroke-width="1.2"/>
<line x1="486.16" y1="365.1" x2="486.16" y2="363.3" stroke="#000" stroke-width="1.2"/>
<line x1="486.16" y1="194.9" x2="486.16" y2="196.70000000000002" stroke="#000" stroke-width="1.2"/>
<line x1="301.1" y1="352.94" x2="304.1" y2="352.94" stroke="#000" stroke-width="1.2"/>
<line x1="301.1" y1="340.79" x2="302.90000000000003" y2="340.79" stroke="#000" stroke-width="1.2"/>
<line x1="301.1" y1="328.63" x2="304.1" y2="328.63" stroke="#000" stroke-width="1.2"/>
<line x1="301.1" y1="316.47" x2="302.90000000000003" y2="316.47" stroke="#000" stroke-width="1.2"/>
<line x1="301.1" y1="304.31" x2="304.1" y2="304.31" stroke="#000" stroke-width="1.2"/>
<line x1="301.1" y1="292.16" x2="302.90000000000003" y2="292.16" stroke="#000" stroke-width="1.2"/>
<line x1="301.1" y1="280.00" x2="304.1" y2="280.00" stroke="#000" stroke-width="1.2"/>
<line x1="301.1" y1="267.84" x2="302.90000000000003" y2="267.84" stroke="#000" stroke-width="1.2"/>
<line x1="301.1" y1="255.69" x2="304.1" y2="255.69" stroke="#000" stroke-width="1.2"/>
<line x1="301.1" y1="243.53" x2="302.90000000000003" y2="243.53" stroke="#000" stroke-width="1.2"/>
<line x1="301.1" y1="231.37" x2="304.1" y2="231.37" stroke="#000" stroke-width="1.2"/>
<line x1="301.1" y1="219.21" x2="302.90000000000003" y2="219.21" stroke="#000" stroke-width="1.2"/>
<line x1="301.1" y1="207.06" x2="304.1" y2="207.06" stroke="#000" stroke-width="1.2"/>

<text x="48.10" y="186.70" class="tl" text-anchor="middle">-20</text>
<text x="101.08" y="186.70" class="tl" text-anchor="middle">-10</text>
<text x="154.05" y="186.70" class="tl" text-anchor="middle">0</text>
<text x="207.03" y="186.70" class="tl" text-anchor="middle">10</text>
<text x="260.00" y="186.70" class="tl" text-anchor="middle">20</text>
<text x="44.50" y="158.76" class="tl" text-anchor="end">-200</text>
<text x="44.50" y="124.68" class="tl" text-anchor="end">-100</text>
<text x="44.50" y="90.60" class="tl" text-anchor="end">0</text>
<text x="44.50" y="56.52" class="tl" text-anchor="end">100</text>
<text x="44.50" y="22.44" class="tl" text-anchor="end">200</text>
<text x="301.00" y="186.70" class="tl" text-anchor="middle">-20</text>
<text x="354.00" y="186.70" class="tl" text-anchor="middle">-10</text>
<text x="407.00" y="186.70" class="tl" text-anchor="middle">0</text>
<text x="460.00" y="186.70" class="tl" text-anchor="middle">10</text>
<text x="513.00" y="186.70" class="tl" text-anchor="middle">20</text>
<text x="297.40" y="158.76" class="tl" text-anchor="end">-200</text>
<text x="297.40" y="124.68" class="tl" text-anchor="end">-100</text>
<text x="297.40" y="90.60" class="tl" text-anchor="end">0</text>
<text x="297.40" y="56.52" class="tl" text-anchor="end">100</text>
<text x="297.40" y="22.44" class="tl" text-anchor="end">200</text>
<text x="48.10" y="380.70" class="tl" text-anchor="middle">-20</text>
<text x="101.00" y="380.70" class="tl" text-anchor="middle">-10</text>
<text x="153.90" y="380.70" class="tl" text-anchor="middle">0</text>
<text x="206.80" y="380.70" class="tl" text-anchor="middle">10</text>
<text x="259.70" y="380.70" class="tl" text-anchor="middle">20</text>
<text x="44.50" y="352.78" class="tl" text-anchor="end">-200</text>
<text x="44.50" y="318.74" class="tl" text-anchor="end">-100</text>
<text x="44.50" y="284.70" class="tl" text-anchor="end">0</text>
<text x="44.50" y="250.66" class="tl" text-anchor="end">100</text>
<text x="44.50" y="216.62" class="tl" text-anchor="end">200</text>
<text x="301.10" y="380.70" class="tl" text-anchor="middle">-20</text>
<text x="353.98" y="380.70" class="tl" text-anchor="middle">-10</text>
<text x="406.85" y="380.70" class="tl" text-anchor="middle">0</text>
<text x="459.73" y="380.70" class="tl" text-anchor="middle">10</text>
<text x="512.60" y="380.70" class="tl" text-anchor="middle">20</text>
<text x="297.50" y="357.64" class="tl" text-anchor="end">-300</text>
<text x="297.50" y="333.33" class="tl" text-anchor="end">-200</text>
<text x="297.50" y="309.01" class="tl" text-anchor="end">-100</text>
<text x="297.50" y="284.70" class="tl" text-anchor="end">0</text>
<text x="297.50" y="260.39" class="tl" text-anchor="end">100</text>
<text x="297.50" y="236.07" class="tl" text-anchor="end">200</text>
<text x="297.50" y="211.76" class="tl" text-anchor="end">300</text>
<text x="62.00" y="21.40" class="pl">a</text>
<text x="249.40" y="71.60" class="cm" text-anchor="end">Co<tspan class="sb" dy="3.2">39</tspan><tspan dy="-3.2">Gd</tspan><tspan class="sb" dy="3.2">61</tspan></text>
<text x="312.80" y="21.50" class="pl">b</text>
<text x="496.20" y="71.60" class="cm" text-anchor="end">Co<tspan class="sb" dy="3.2">48</tspan><tspan dy="-3.2">Gd</tspan><tspan class="sb" dy="3.2">52</tspan></text>
<text x="60.20" y="216.10" class="pl">c</text>
<text x="246.70" y="265.80" class="cm" text-anchor="end">Co<tspan class="sb" dy="3.2">54</tspan><tspan dy="-3.2">Gd</tspan><tspan class="sb" dy="3.2">46</tspan></text>
<text x="313.60" y="215.80" class="pl">d</text>
<text x="502.40" y="268.00" class="cm" text-anchor="end">Co<tspan class="sb" dy="3.2">73</tspan><tspan dy="-3.2">Gd</tspan><tspan class="sb" dy="3.2">27</tspan></text>

<line x1="201.50" y1="97.10" x2="212.90" y2="97.10" stroke="#2b2b2b" stroke-width="1.7" stroke-linecap="round"/>
<text x="221.20" y="100.40" class="lg">300 K</text>
<line x1="201.50" y1="110.07" x2="212.90" y2="110.07" stroke="#d23a44" stroke-width="1.7" stroke-linecap="round"/>
<text x="221.20" y="113.37" class="lg">250 K</text>
<line x1="201.50" y1="123.04" x2="212.90" y2="123.04" stroke="#1f5cc8" stroke-width="1.7" stroke-linecap="round"/>
<text x="221.20" y="126.34" class="lg">200 K</text>
<line x1="201.50" y1="136.01" x2="212.90" y2="136.01" stroke="#2e9a5c" stroke-width="1.7" stroke-linecap="round"/>
<text x="221.20" y="139.31" class="lg">150 K</text>
<line x1="201.50" y1="148.98" x2="212.90" y2="148.98" stroke="#a876dc" stroke-width="1.7" stroke-linecap="round"/>
<text x="221.20" y="152.28" class="lg">100 K</text>
<line x1="201.50" y1="161.95" x2="212.90" y2="161.95" stroke="#d4a21e" stroke-width="1.7" stroke-linecap="round"/>
<text x="221.20" y="165.25" class="lg">50 K</text>
<line x1="451.90" y1="96.70" x2="463.30" y2="96.70" stroke="#2b2b2b" stroke-width="1.7" stroke-linecap="round"/>
<text x="471.60" y="100.00" class="lg">300 K</text>
<line x1="451.90" y1="109.67" x2="463.30" y2="109.67" stroke="#d23a44" stroke-width="1.7" stroke-linecap="round"/>
<text x="471.60" y="112.97" class="lg">250 K</text>
<line x1="451.90" y1="122.64" x2="463.30" y2="122.64" stroke="#1f5cc8" stroke-width="1.7" stroke-linecap="round"/>
<text x="471.60" y="125.94" class="lg">200 K</text>
<line x1="451.90" y1="135.61" x2="463.30" y2="135.61" stroke="#2e9a5c" stroke-width="1.7" stroke-linecap="round"/>
<text x="471.60" y="138.91" class="lg">150 K</text>
<line x1="451.90" y1="148.58" x2="463.30" y2="148.58" stroke="#a876dc" stroke-width="1.7" stroke-linecap="round"/>
<text x="471.60" y="151.88" class="lg">100 K</text>
<line x1="451.90" y1="161.55" x2="463.30" y2="161.55" stroke="#d4a21e" stroke-width="1.7" stroke-linecap="round"/>
<text x="471.60" y="164.85" class="lg">50 K</text>
<line x1="196.60" y1="290.20" x2="208.00" y2="290.20" stroke="#2b2b2b" stroke-width="1.7" stroke-linecap="round"/>
<text x="216.30" y="293.50" class="lg">300 K</text>
<line x1="196.60" y1="303.17" x2="208.00" y2="303.17" stroke="#d23a44" stroke-width="1.7" stroke-linecap="round"/>
<text x="216.30" y="306.47" class="lg">250 K</text>
<line x1="196.60" y1="316.14" x2="208.00" y2="316.14" stroke="#1f5cc8" stroke-width="1.7" stroke-linecap="round"/>
<text x="216.30" y="319.44" class="lg">200 K</text>
<line x1="196.60" y1="329.11" x2="208.00" y2="329.11" stroke="#2e9a5c" stroke-width="1.7" stroke-linecap="round"/>
<text x="216.30" y="332.41" class="lg">150 K</text>
<line x1="196.60" y1="342.08" x2="208.00" y2="342.08" stroke="#a876dc" stroke-width="1.7" stroke-linecap="round"/>
<text x="216.30" y="345.38" class="lg">100 K</text>
<line x1="196.60" y1="355.05" x2="208.00" y2="355.05" stroke="#d4a21e" stroke-width="1.7" stroke-linecap="round"/>
<text x="216.30" y="358.35" class="lg">50 K</text>
<line x1="453.50" y1="299.10" x2="464.90" y2="299.10" stroke="#2b2b2b" stroke-width="1.7" stroke-linecap="round"/>
<text x="473.20" y="302.40" class="lg">300 K</text>
<line x1="453.50" y1="312.07" x2="464.90" y2="312.07" stroke="#d23a44" stroke-width="1.7" stroke-linecap="round"/>
<text x="473.20" y="315.37" class="lg">250 K</text>
<line x1="453.50" y1="325.04" x2="464.90" y2="325.04" stroke="#1f5cc8" stroke-width="1.7" stroke-linecap="round"/>
<text x="473.20" y="328.34" class="lg">200 K</text>
<line x1="453.50" y1="338.01" x2="464.90" y2="338.01" stroke="#2e9a5c" stroke-width="1.7" stroke-linecap="round"/>
<text x="473.20" y="341.31" class="lg">150 K</text>
<line x1="453.50" y1="350.98" x2="464.90" y2="350.98" stroke="#a876dc" stroke-width="1.7" stroke-linecap="round"/>
<text x="473.20" y="354.28" class="lg">100 K</text>

<text transform="translate(13.0,86.70) rotate(-90)" class="at" text-anchor="middle"><tspan font-style="italic">M</tspan> (emu/cm<tspan class="sp" dy="-6">3</tspan><tspan dy="6">)</tspan></text>
<text transform="translate(13.0,280.80) rotate(-90)" class="at" text-anchor="middle"><tspan font-style="italic">M</tspan> (emu/cm<tspan class="sp" dy="-6">3</tspan><tspan dy="6">)</tspan></text>
<text x="153.40" y="395.7" class="at" text-anchor="middle">Magnetic field (kOe)</text>
<text x="406.50" y="395.7" class="at" text-anchor="middle">Magnetic field (kOe)</text>

</svg>
</body></html>
